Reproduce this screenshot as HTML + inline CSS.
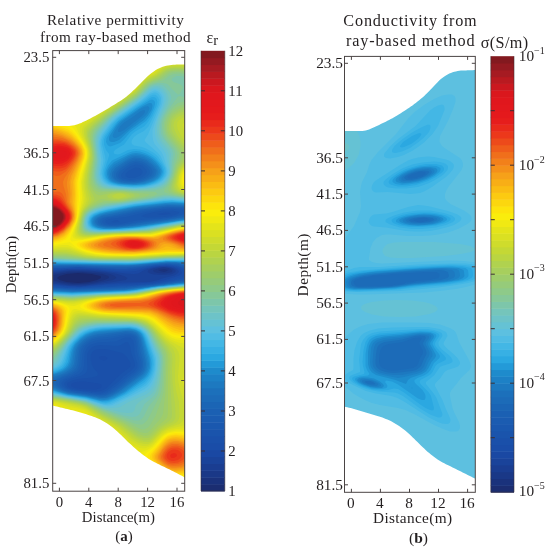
<!DOCTYPE html>
<html><head><meta charset="utf-8"><title>Figure</title>
<style>html,body{margin:0;padding:0;background:#fff}svg{display:block}text{font-family:"Liberation Serif",serif;fill:#231f20}</style></head><body>
<svg width="548" height="550" viewBox="0 0 548 550">
<rect width="548" height="550" fill="#fff"/>
<defs><clipPath id="ca"><rect x="53" y="51" width="132" height="440"/></clipPath></defs>
<g clip-path="url(#ca)">
<rect x="50" y="48" width="138" height="446" fill="#1b2a6b"/>
<path fill="#1a327c" d="M50,48l138,0 0,446 -138,0zM57,278l2.5,2 7,2 11.5,1 11,-1 8,-2 4,-2 -.5,-2 -9,-2 -13.5,-1 -11.5,1 -7,2z"/>
<path fill="#1a3887" d="M50,48l138,0 0,446 -138,0 0,-214.5 9.5,2.5 13.5,2 7,0 6,-.5 10,-1.5 8.5,-2 4.5,-2 -.5,-2 -6,-2 -20.5,-2 -14,.5 -10,1.5 -8,2zM158,270l2,1 4,1 2,-.5 2.5,-1.5 -4.5,-1z"/>
<path fill="#1a3d91" d="M50,48l138,0 0,446 -138,0 0,-212.5 18,3 8,.5 8,-.5 7,-.5 22,-4 3.5,-2 -1.5,-2 -5,-2 -12,-2 -20,-1 -8,0 -20,3zM153,270l1,2 4,1 6,.5 4,-.5 4,-1 .5,-2 -4,-2 -4.5,-.5 -4.5,.5z"/>
<path fill="#1a439a" d="M50,48l138,0 0,446 -138,0 0,-211 20,2.5 14,0 29,-3.5 12.5,-2 2,-2 -3.5,-2 -6.5,-2 -11.5,-2 -18,-1.5 -16,-.5 -22,2.5zM147.5,272l2.5,1.5 4,1 8,.5 8,-.5 2,-.5 3.5,-2 0,-2 -3.5,-2 -8,-1 -9.5,1 -6,2z"/>
<path fill="#1a48a3" d="M50,48l138,0 0,446 -138,0 0,-210 18,2 12,.5 42,-4 27,-.5 9.5,-2 3.5,-1.5 12,-3 3,-1.5 2,-2 -1,-2 -3,-2 -5,-1 -4,-.5 -6,0 -9,1.5 -6.5,2 -6.5,3.5 -4,.5 -8,-.5 -30,-3.5 -12,-.5 -16,0 -18,2z"/>
<path fill="#1a4da8" d="M50,48l138,0 0,446 -138,0 0,-209 18,1.5 12,.5 28,-2.5 44,-2 4.5,-.5 8.5,-2 13,-4 3.5,-2 .5,-2 -1.5,-2 -3,-2 -5.5,-1.5 -6,-.5 -6,0 -12.5,2 -11.5,3 -6,.5 -10,0 -22,-2 -18,-.5 -12,0 -18,1.5z"/>
<path fill="#1a50aa" d="M50,48l138,0 0,446 -138,0 0,-208.5 18,2 10,0 30,-2 36.5,-1.5 16.5,-2 9,-2 14,-4 3,-2 -1.5,-2 -6,-4 -6.5,-2 -5,-.5 -11.5,.5 -18.5,3.5 -10,1 -8,0 -40,-2.5 -12,.5 -18,1.5zM71,384l0,2 4,2 7,1 14,.5 4.5,-1.5 1.5,-2 -1.5,-2 -2.5,-.5 -14,-2 -8,.5 -2,.5zM99,358l2,2 3,.5 2,-.5 1.5,-2 -2.5,-2 -3,0 -2,.5z"/>
<path fill="#1a54ac" d="M50,48l138,0 0,223 -6,-3 -6,-2 -10,-1 -13,1 -17,3 -8,.5 -12,0 -36,-2 -14,.5 -16,1zM157.5,214l2.5,1 2,0 8.5,-1 -.5,-1 -2,-.5 -2,0zM188,277l0,217 -138,0 0,-207.5 18,1.5 8,0 52,-2.5 24,-1.5 13,-2zM130,362l-4,-6 -2,-2 -2,-1 -12,-3 -6,-1 -4,0 -4,.5 -2,1 -2,2 -1.5,3.5 0,2 1.5,7 2,3.5 3,3.5 1,2 -1,2 -5,1.5 -14,1.5 -6,1.5 -4,2 -1,1.5 .5,2 2.5,2 8,2 18,1.5 4,-.5 3.5,-1 3,-2 15.5,-15 7,-5 1.5,-2 0,-2z"/>
<path fill="#1a58af" d="M50,48l138,0 0,221.5 -10,-3.5 -6,-1 -6,-.5 -10,.5 -22,3.5 -8,.5 -10,0 -38,-2 -28,1.5zM120,222l-2,-2 -4,.5 -3,1.5 3,.5zM141.5,216l2.5,1 4,.5 16,-.5 7.5,-1 6.5,-2 1.5,-2 -7.5,-1.5 -8,0 -9.5,1.5 -8.5,2zM188,278.5l0,215.5 -138,0 0,-207 16,1.5 10,0 54,-2.5 25.5,-2zM128,342l-2,0 -4,2.5 -4,1.5 -18,-1 -5.5,1 -3.5,2 -2,2 -2,4 0,4 .5,10 -1,4 -2,2 -2.5,1.5 -12,3.5 -4,2 -1,1 -1,2 1,2 2.5,2 5,2 19.5,2.5 6,0 4,0 5.5,-2.5 10.5,-8 6,-6 8,-6 2,-2 1,-2 -.5,-4 -3,-8 -1.5,-8z"/>
<path fill="#1b5cb1" d="M50,48l138,0 0,163.5 -5.5,-1.5 -8.5,-1 -8,0 -7.5,1 -12.5,2 -20,5 -16,2 -3.5,1 -1.5,2 3.5,2 5.5,.5 6,-.5 16,-3.5 10,-1 20,-1.5 10.5,-2 8,-2 3.5,-1.5 0,55.5 -12,-3 -10,-1 -10,1 -20,2.5 -10,1 -10,0 -38,-1.5 -28,1zM142.5,172l-.5,-2 -2.5,-2 -3.5,-.5 -2,.5 -4,2 -2.5,2 -2,2 0,2 2.5,1.5 1.5,.5 4.5,0 5.5,-2 2.5,-2zM188,279.5l0,214.5 -138,0 0,-206.5 24,1.5 52,-2 33,-3zM133,340l-1,-1 -2,-1.5 -4,0 -2.5,.5 -7.5,3.5 -18,1 -4,1 -4,1.5 -3,3 -2,4 -.5,4 -.5,10 -1,4 -1.5,2 -2.5,2 -15,6 -2,2 -.5,2 1,2 3.5,2.5 6,2 24,3 4,.5 4,-1 3,-1 3.5,-2 5.5,-4 10,-8.5 8,-6 3,-3.5 .5,-4 -3,-10 -.5,-10z"/>
<path fill="#1b60b3" d="M50,48l138,0 0,161 -18,-1 -19,2 -12.5,2 -14.5,3.5 -16.5,2.5 -4.5,2 -1,2 2,2 2,.5 6,1 6,-.5 8.5,-1 15.5,-3 28,-3 18,-3.5 0,52.5 -10,-2.5 -10,-.5 -10,.5 -22,2.5 -10,.5 -14,0 -34,-1 -28,.5zM121,176l1.5,2 3.5,1 4,1 4,-.5 6.5,-1.5 3.5,-2 2,-2 1,-2 -1,-2.5 -3.5,-3.5 -2.5,-1 -4,-.5 -5,1.5 -6,4 -3.5,4zM188,280l0,214 -138,0 0,-206 24,1.5 50,-1.5 38,-4 18,-3zM134.5,338l-2.5,-2 -2,-.5 -4,0 -14,3 -14,1.5 -4,1 -4,1.5 -4.5,3.5 -2,4 -1,4 -1,12 -2,4 -2,2 -3,2 -13.5,6 -2,2 0,2 1.5,2 2.5,2 3,1.5 9,2.5 25,3 5.5,-1 4.5,-2 9,-6 9,-8 8,-6 3,-4 .5,-2 0,-4 -2.5,-10 -1,-10z"/>
<path fill="#1b65b5" d="M50,48l138,0 0,160 -20,-1 -25,3 -21,4.5 -16,3 -2.5,.5 -3,2 -.5,2 1.5,2 4.5,1.5 4,.5 7.5,0 28.5,-4.5 20,-2 22,-3.5 0,50 -11,-2 -9,-.5 -10,.5 -22,2.5 -10,.5 -16,0 -32,-1 -28,.5zM118,176l1.5,2 3.5,2 7,1 6,-.5 3,-.5 5.5,-2 3.5,-2.5 1.5,-1.5 .5,-2 -.5,-2 -1.5,-2 -2,-2 -4,-2.5 -4,-1 -2,-.5 -5.5,2 -6,4 -5,4 -1,2zM188,280.5l0,213.5 -138,0 0,-205.5 24,1.5 52,-2 38.5,-4zM136.5,338l-1.5,-2 -3,-1.5 -2,-.5 -4,0 -14,2.5 -14,1.5 -6,1.5 -4,2.5 -4.5,4 -2.5,4 -.5,4 -1,10 -1.5,4 -1,2 -5,3.5 -10.5,4.5 -4,2 -1.5,2 .5,2 1.5,2 3,2 3.5,2 9.5,2.5 26,3 6,-.5 6.5,-3 6,-4 11.5,-9.5 6,-4.5 4,-4 1,-2 .5,-2 0,-4 -2.5,-8 -1.5,-12z"/>
<path fill="#1c6bb8" d="M50,48l138,0 0,159 -20,-.5 -31,3.5 -15,3.5 -18,3.5 -4,1.5 -1.5,1.5 -.5,2 1,2 4.5,2 6.5,.5 8,0 6,-.5 20,-3.5 22.5,-2.5 21.5,-3.5 0,49 -10,-2 -10,-.5 -10,.5 -20,2.5 -12,.5 -16,0 -32,-1 -28,.5zM116,176l1,2 3,2 6,1.5 8,.5 8,-1.5 5.5,-2.5 3,-2 1.5,-2 .5,-2 -.5,-2 -1,-2 -4.5,-4 -4.5,-2.5 -6,-1 -6,1.5 -9,6 -4,4 -1,2zM188,281.5l0,212.5 -138,0 0,-205 24,1.5 50,-1.5 10,-1zM138,338l-1.5,-2 -2.5,-2 -4,-1 -4,-.5 -28,4 -6,1.5 -4,2 -5,4 -3,4 -1,4 -1.5,12 -1.5,4 -2,2 -2.5,2 -17,8 -1.5,2 .5,2 5.5,4 3.5,2 6,2 31.5,4.5 4,0 4,-1.5 6,-2.5 6.5,-4.5 17.5,-13.5 2.5,-2.5 1.5,-2.5 1,-3.5 0,-4 -2.5,-10 -1.5,-10z"/>
<path fill="#1c70bb" d="M50,48l138,0 0,158 -14,-.5 -8,0 -30,4 -33,6.5 -4.5,2 -1.5,2 -.5,2 1,2 3,2 7.5,1 8,0 12.5,-1 59.5,-9 0,47.5 -10,-1.5 -10,-.5 -42,3.5 -50,-1 -26,.5zM114,176l.5,2 2.5,2 5,2 6,.5 8,0 8,-1.5 6,-3 2.5,-2 1.5,-2 .5,-2 0,-2 -1.5,-2 -5,-5 -6,-3 -6,-1 -4,1 -4,1.5 -9.5,6.5 -4,4 -.5,2zM188,282l0,212 -138,0 0,-110.5 .5,.5 6.5,4 4,2 7,2.5 30,4.5 4,.5 4,-.5 6,-2.5 8,-4.5 20,-15.5 3.5,-4.5 .5,-2 .5,-4 -.5,-4 -2.5,-10 -1.5,-10 -2,-4 -2,-2 -4,-2 -6,-.5 -28,3.5 -4,1 -6,2.5 -5,3.5 -3,3.5 -1.5,2.5 -1,4 -2,12 -1.5,3.5 -2,2.5 -6,3.5 -11.5,4.5 -4.5,2.5 0,-91 24,1.5 50,-1.5z"/>
<path fill="#1d79c0" d="M50,48l138,0 0,157.5 -20,-.5 -32,3.5 -34,7 -5,2.5 -1.5,2 -.5,2 1,2 2.5,2 7.5,1.5 10,0 16.5,-1.5 55.5,-8 0,46 -12,-1.5 -8,0 -40,3 -20,0 -32,-.5 -26,0zM156.5,170l-1.5,-2 -3,-3.5 -6,-4.5 -6,-2 -6,-.5 -4,1.5 -4,2 -10.5,7 -3,4 -.5,2 0,2 1,2 2,2 4,2 9,1.5 10,-.5 8,-2 6.5,-3 2.5,-2 1,-2 .5,-2zM188,282l0,212 -138,0 0,-108.5 9,4.5 9,3 18,2.5 14,2.5 6,0 5,-2 7.5,-4 21.5,-16 2.5,-2 2.5,-4 .5,-2 .5,-4 -.5,-4 -5,-22 -2.5,-3.5 -2,-2 -4,-1.5 -6,0 -28,3 -6,1.5 -4,1.5 -4.5,3 -4,4 -1.5,2 -2,4 -2,14 -2,3.5 -2,2 -4,2.5 -4,2 -12,4 0,-88 22,1.5 52,-1.5z"/>
<path fill="#1d81c6" d="M50,48l138,0 0,157 -20,-1 -34,4 -28,5.5 -6,2 -4.5,2.5 -1.5,2 -.5,2 1,2 1.5,1.5 4,1.5 6,1 10,0 20.5,-2 51.5,-7.5 0,45 -12,-1.5 -8,0 -40,3 -20,0 -32,-.5 -26,0zM144.5,110l-2.5,.5 -2,1 -8,6 -8,5 -4,4 -2,3.5 0,2 2,0 4,-2 18,-14 2,-2 1,-2zM110,174l.5,2 .5,2 2,2 3.5,2 7.5,1.5 10,.5 10,-1.5 7.5,-2.5 3,-2 2,-2 1.5,-2 .5,-2 -.5,-2 -2,-3.5 -6,-5.5 -6,-3.5 -4,-1 -4,-.5 -4,.5 -4,2 -12,7 -3,2.5 -1.5,2zM188,282.5l0,211.5 -138,0 0,-107 12.5,5 7.5,2 16,2 14,3 6,-.5 6,-2 8.5,-4.5 21.5,-16 2,-2 2.5,-4 1,-6 -1,-6 -5,-20 -2.5,-4 -2.5,-2 -4.5,-1.5 -4,-.5 -28,2.5 -6,1 -4,1.5 -4,2 -4.5,3 -3.5,4 -2.5,4 -1.5,4 -1.5,10 -1.5,4 -1.5,2 -2.5,2 -5,2.5 -12,4 0,-86 22,1.5 54,-2 54,-7z"/>
<path fill="#1e8bcc" d="M50,48l138,0 0,156 -14,-.5 -8,0 -26,3 -10,1.5 -24,5 -6,1.5 -3.5,1.5 -2.5,2 -1,2 -.5,2 .5,2 2,2 3,1.5 6,1 10,0 10,-.5 16,-2 48,-7 0,43.5 -12,-.5 -10,-.5 -30,3 -10,.5 -50,-1 -26,0zM148,106l-4,1 -4,2 -18.5,13 -3.5,4 -4,6 -1.5,4 1.5,2 2,0 4,-2 24,-19 3,-3 2,-4 .5,-2zM108.5,174l1,4 1.5,2 3,2 8,2 12,.5 10,-1 8,-2.5 4,-2.5 2,-2 1.5,-2.5 .5,-2 0,-2 -2,-3.5 -4,-4 -2.5,-2.5 -3.5,-2 -4,-2 -4,-1 -4,-.5 -4,.5 -4,1.5 -14,8 -4,4.5 -1.5,3zM188,283l0,211 -138,0 0,-106 10.5,4 7.5,2 18,2.5 14,3 4,.5 4,-1 6,-2.5 9,-4.5 19,-14 2,-2 3,-4 1.5,-4 .5,-4 -1,-6 -5.5,-20 -2.5,-4 -2,-2 -4,-2 -6,-.5 -28,2 -6,1 -4.5,1.5 -4,2 -5.5,4 -3.5,4 -2.5,4 -1,4 -2,10 -1,2.5 -2,3 -3,2.5 -4,2 -11,3.5 0,-84.5 22,1.5 52,-2 8,-.5 20,-3z"/>
<path fill="#239ad8" d="M50,48l138,0 0,155.5 -14,-1 -8,.5 -28,3 -32,6 -7,2 -4,2 -2.5,2 -1,2 0,2 .5,2 1.5,2 4.5,2 6,1 10,0 14.5,-1 13.5,-1.5 46,-7 0,42.5 -12,-.5 -10,0 -28,2.5 -12,.5 -76,-1zM152,103.5l-2,-.5 -2,.5 -6,3 -22,15 -4,4.5 -6.5,10 -.5,2 0,2 1,1.5 2,.5 2,0 5,-2 11,-10 14,-10 4,-4.5 3.5,-5.5 1,-4zM107,174l1,4 1.5,2 2.5,2 6.5,2 5.5,.5 12,.5 9,-1 5,-1.5 4,-1.5 4,-2.5 2,-2.5 1,-2 .5,-2 0,-2 -2.5,-4 -3,-4 -4,-3.5 -4,-2.5 -4,-1.5 -4,-1 -4,-.5 -4,.5 -4,1.5 -14,7 -4,4 -2.5,4zM188,283.5l0,210.5 -138,0 0,-105 9,3 9,2.5 18,2.5 14,3.5 4,0 4,-.5 6,-2 11,-6 19,-14 2,-2 2.5,-4 1.5,-4 0,-4 -.5,-6 -6,-20 -2,-4 -2,-2 -3.5,-2 -2,-.5 -6,-1 -26,2 -8,1 -4,1.5 -4,1.5 -5,3.5 -6,6 -2,4 -1.5,4 -2,10 -2,4 -2,2 -3.5,2.5 -6,2.5 -6,1.5 0,-83 22,1 52,-1.5 10,-1 20,-3z"/>
<path fill="#2ba8e1" d="M50,48l138,0 0,155 -16,-1 -8,.5 -30,3.5 -26,5 -8,2 -6,2.5 -2.5,2.5 -1,2 0,2 .5,2 1,2 3.5,2 6.5,1 10,.5 20.5,-1.5 55.5,-8 0,41.5 -22,-.5 -28,2.5 -12,.5 -76,-1zM154,100.5l-2,-1 -2,.5 -13,8 -19,13.5 -8,10.5 -3.5,6 -.5,4 1,2 1,1.5 2,1 2,-.5 8,-3 3.5,-3 7,-8 15.5,-11 4,-5 4,-8 1,-4 0,-2zM105.5,172l0,4 1,2 1.5,2 2,2 4,1.5 4,1 14,1 12,-.5 4,-1 6,-2 3.5,-2 2.5,-2 2,-3 1,-3 -.5,-2 -1.5,-4 -3,-4 -4,-4 -4,-2.5 -4,-2 -6,-2 -4,-.5 -4,.5 -4,1.5 -16,7.5 -4,5 -2,4.5zM188,283.5l0,210.5 -138,0 0,-104 18,5 18,2.5 16,4 6,-.5 6,-2 10,-5 20,-14 4,-4 2,-4 1,-4 .5,-4 -.5,-4 -1,-4 -5.5,-18 -2,-4 -2.5,-2.5 -4,-2 -6,-1.5 -6,0 -22,1.5 -6,1 -6.5,1.5 -4.5,2 -5,3.5 -4.5,4.5 -3.5,5 -2,5 -2,10 -2.5,4 -2,2 -3.5,2 -4.5,2 -5.5,1.5 0,-81.5 22,1 52,-1.5 10,-1 20,-3.5z"/>
<path fill="#37b0e4" d="M50,48l138,0 0,154.5 -16,-1 -8,0 -30,4 -26,4.5 -8,2 -6,2.5 -1.5,1.5 -2,2 -1,4 .5,2 1,2 3,2 6,1.5 10,0 26.5,-1.5 14.5,-2 29,-5 8,-1 0,41 -22,0 -28,2 -10,.5 -78,-1zM156,98l-2,-1 -2,0 -2,1 -30,20.5 -5.5,5.5 -9,12 -1.5,4 0,4.5 2,5.5 3,4 0,2 -4.5,14 -.5,4 1,4 1.5,2 2,2 4.5,2 7,1.5 10,.5 10,0 10,-1.5 6,-2.5 4,-2.5 3,-3.5 1,-3 0,-3 -2,-5 -6,-7.5 -4,-3 -4,-2.5 -4,-1.5 -4,-1 -6,-.5 -6,1 -8,4 -2,.5 -3.5,-.5 -1,-2 1.5,-2 3,-2 6,-3.5 8,-10.5 4,-3 8,-4.5 4,-4.5 4,-6 4.5,-10 1,-4 -.5,-2zM188,284l0,210 -138,0 0,-103.5 16,4.5 20,3 16,4 4,.5 4,-1 16,-7.5 18.5,-12 3.5,-4 2.5,-4 1.5,-4.5 .5,-5.5 0,-4 -1,-4 -6,-18 -2,-4 -3.5,-3.5 -4,-2 -6,-1 -26,1 -8,1 -6,1.5 -4,1.5 -5.5,3.5 -6.5,6 -2.5,4 -2,4 -3.5,12 -2.5,4 -2,2 -3.5,2 -8,2.5 0,-80 22,1 52,-2 10,-1 22,-3.5z"/>
<path fill="#43b7e5" d="M50,48l138,0 0,154 -16,-1.5 -8,.5 -30,3.5 -26,5 -8,2 -6.5,2.5 -2.5,2 -1.5,2 -1,4 .5,2 1,2 2,2 2,.5 6,1.5 10,0 12,-.5 18.5,-1.5 39.5,-6.5 8,-1 0,40 -22,0 -28,2.5 -10,0 -26,0 -52,-1zM156,95l-2,-.5 -2,.5 -2,1 -8,6 -23.5,16 -6,6 -8.5,12 -1.5,4 -.5,4 3,12 .5,4 -2.5,10 -.5,4 1,4 1.5,2 3,3 4,1.5 8.5,1.5 11.5,1 10,-.5 8,-1.5 6,-2 5,-3 3,-4 1.5,-4 -.5,-4 -3,-5.5 -4,-6 -4,-3.5 -8,-4.5 -4,-1.5 -8,-1.5 -2,-1.5 -.5,-2 .5,-2 2,-3 4,-3 6,-3 4,-4 2,-3.5 6.5,-13.5 2.5,-6 .5,-4 -1,-2 -.5,-1zM188,284.5l0,209.5 -138,0 0,-102.5 16,4 20,3 16,4.5 4,.5 4,-1 4,-1.5 14,-7 14,-8 4,-3 4,-5 2,-4 1,-4 1,-6 -.5,-4 -.5,-4 -6.5,-18 -2,-4 -4,-4 -4.5,-2 -6,-1 -26,1 -8,.5 -6,1.5 -5,2 -5,3 -6,6 -4,5 -1.5,4 -4,12 -2.5,3.5 -4,3 -4,2 -4,1 0,-78.5 22,1 52,-2 10,-1 22,-3.5z"/>
<path fill="#51bce4" d="M50,48l138,0 0,153.5 -16,-1.5 -8,.5 -29.5,3.5 -26.5,5 -10,2.5 -5.5,2.5 -2.5,2 -1,2 -1,4 0,2 1,2 3,2.5 6,1.5 10,.5 14,-.5 22,-2 34,-6 10,-1 0,39 -22,0 -28,2.5 -10,.5 -28,-.5 -50,-1zM158,93.5l-2,-1 -2,0 -4,1.5 -8,6.5 -25,17.5 -6,6 -6,8 -2.5,4 -1.5,4 -.5,4 3,16 -.5,4 -1.5,6 0,4 1,4 1,2 1.5,2 3,2 6,1.5 12,1.5 10,.5 10,-1 8,-2 4,-1.5 4.5,-3 3,-4 1,-4 -.5,-4 -5.5,-12 -2.5,-3 -12.5,-11 -1,-2 3.5,-5.5 12.5,-30.5 .5,-4 0,-2 -1,-2zM188,284.5l0,209.5 -138,0 0,-102 17,4 19,3 16,5 4,.5 4,-.5 4,-1.5 14,-6.5 18,-10.5 4,-4.5 2.5,-5 2,-6 .5,-6 0,-4 -1,-4 -6.5,-18 -2,-4 -4,-4 -5.5,-2.5 -6,-1 -26,.5 -8,1 -6,1 -6,2.5 -4,2.5 -6,6 -5,6 -2,4 -3.5,10 -2,4 -2,2 -3,2 -6.5,2.5 0,-77 22,1 54,-2.5 8,-.5 24,-4z"/>
<path fill="#5dc0e0" d="M50,48l138,0 0,152.5 -16,-1 -6,0 -32,4 -28,5 -8,2 -6,3 -2,1.5 -2,3 -1,4 1,4 1.5,2 2.5,1.5 6,1 8,0 20,-.5 18,-1.5 34,-6 10,-1 0,38 -22,.5 -28,2 -10,.5 -28,0 -50,-1.5zM158,91.5l-2,-1 -2,0 -4,2 -10,8.5 -24,16.5 -4.5,4.5 -9.5,12 -1.5,4 -1,4 0,4 2,14 -1.5,14 1,4 1,2 1.5,2 2.5,2 6,2 10,1 12,1 10,-.5 8,-1.5 6,-2 4,-2.5 4,-4.5 1.5,-3 0,-4 -4,-14 -2,-4 -7,-8 -1.5,-4 -.5,-4 0,-6 2.5,-8 6.5,-16 1,-4 0,-4 -.5,-2 -2,-3zM188,285l0,209 -138,0 0,-101.5 16,4 20,3 18,5.5 4,.5 4,-.5 18,-8.5 14,-7 4,-3 3.5,-4.5 2.5,-5.5 1.5,-6.5 .5,-6 0,-6 -2,-6 -6.5,-16 -2.5,-4 -2.5,-2 -4.5,-2.5 -6,-1.5 -6,-.5 -20,1 -8,.5 -8,1.5 -6,2 -4,2.5 -7.5,7 -4.5,6 -2,4 -4,10 -2.5,4 -3.5,3 -6,2 0,-75.5 22,1.5 26,-1.5 28,-1 8,-1 24,-4z"/>
<path fill="#65c2d4" d="M50,48l138,0 0,152 -16,-1.5 -8,.5 -30,4 -28,4.5 -8,2.5 -6,2.5 -2,1.5 -2,2.5 -1.5,3.5 0,2 .5,4 1.5,2 3.5,2 4,.5 8,.5 20,-.5 20,-1.5 34,-6 10,-1 0,37.5 -22,0 -36,2.5 -32,0 -48,-1.5zM159,90l-3,-1 -2,0 -2.5,1 -12,10 -23,16 -6.5,6 -6.5,8 -2.5,4 -2,4 -.5,4 0,4 2,14 -1.5,14 1.5,6 1.5,2 2,2 5,2 7,1 18,1.5 10,-.5 8,-1 6,-2 5.5,-3 3,-4 2,-4 .5,-4 -3,-16 -2,-3.5 -4,-5 -2.5,-3.5 -1.5,-4 -1,-4 0,-6 1.5,-6 2,-6 4.5,-10 1.5,-6 -.5,-4 -1,-2 -1.5,-2zM188,285l0,209 -138,0 0,-101 16,3.5 20,3.5 18,6 6,.5 4,-.5 30,-14 3.5,-2 2.5,-2 2.5,-4 3,-8 1.5,-8 .5,-6 -.5,-4 -1,-4 -7.5,-18 -2.5,-4 -4,-3.5 -6,-2.5 -6,-1 -26,.5 -8,1 -6,1 -6,2 -4,2.5 -6,5.5 -5.5,6.5 -4,6 -4.5,10 -2,3.5 -3,2.5 -5,2 0,-74 22,1.5 28,-2 26,-.5 8,-1 22,-4z"/>
<path fill="#6dc3c8" d="M50,48l138,0 0,151.5 -16,-1.5 -6,0 -30,4 -30,5 -10,3 -6,3 -2,2 -1.5,3 -1,4 .5,4 1,2 3,2 4,1 8,.5 20,-.5 22,-1.5 9,-1.5 27,-5 8,-1 0,37 -22,0 -36,2.5 -32,0 -48,-1.5zM160,88.5l-2,-1 -4,0 -4,2 -12,10.5 -25.5,18 -9,10 -3.5,5 -2,4.5 -.5,4.5 0,4 1.5,14 -1,14 .5,4 1.5,3.5 2,2.5 2,1 6,2 24,2 12,-.5 8,-1 6,-2 4,-2.5 3.5,-5 2,-4 .5,-4 -1,-8 -.5,-8 -1.5,-4 -5,-6 -2.5,-4 -2,-4 -.5,-4 0,-6 1.5,-6 6,-14 2,-6 -.5,-4 -.5,-2 -3,-4zM188,285.5l0,208.5 -138,0 0,-100.5 16,3.5 20,3.5 16,6 4,1 6,.5 6,-.5 2,-.5 8.5,-5 17.5,-7.5 3.5,-2.5 2,-2 2.5,-4 2.5,-8 1.5,-8 .5,-8 0,-4 -1,-4 -8.5,-18 -2,-4 -5,-4 -6,-2.5 -6,-1 -26,.5 -8,.5 -6,1 -6,2 -4,2.5 -6,5.5 -7,7.5 -10,18 -3,2.5 -4,2 0,-72 22,1 26,-1.5 28,-1 10,-1 22,-4z"/>
<path fill="#75c5bb" d="M50,48l138,0 0,151 -18,-2 -6,0 -60,9.5 -10,3.5 -3.5,2 -2.5,2 -2.5,4 -.5,6 1,4 2,2 2,.5 6,1 8,.5 22,-1 20,-1.5 32,-6 10,-1 0,36 -22,.5 -36,2.5 -34,-.5 -46,-1.5zM162,87.5l-2,-1 -4,-.5 -4,1 -2,1 -12,11 -21.5,15 -5.5,4 -9,10 -3,4 -2,4 -1,6 2,18 -1.5,14 .5,4 1,2.5 2,3 2,2 4,1.5 6,1 22,1.5 12,-.5 8,-1 6,-1.5 4,-2.5 4,-4.5 1.5,-3.5 1,-4 0,-10 .5,-8 -1.5,-4 -6.5,-8 -2.5,-4 -1.5,-4 -.5,-4 .5,-4 1,-6 2,-5 5.5,-11 1,-4 0,-2 -1,-4 -2.5,-4zM188,285.5l0,208.5 -138,0 0,-100 16,3.5 20,3.5 18,7 18,4.5 6,.5 4,-.5 1,-.5 1.5,-2 1,-4 1.5,-2 2,-2 11,-6.5 4,-4.5 2,-4.5 2,-8 1.5,-8.5 .5,-8 -.5,-4 -1,-4 -8.5,-18 -2.5,-4 -4,-4 -5.5,-2.5 -6,-1.5 -26,0 -8,.5 -8,1.5 -6,1.5 -4,2 -4,3.5 -10,11 -10,16.5 -2,2 -4,2.5 0,-70 22,1 28,-1.5 26,-1 10,-1 22,-4z"/>
<path fill="#7dc6aa" d="M50,48l138,0 0,150.5 -18,-2.5 -6,0 -12,2.5 -48,7.5 -10,3 -4,2.5 -2,1.5 -2,3 -1,2 -1,6 1,4 3,2.5 6,1.5 8,0 44,-2 32,-6 10,-1 0,35 -22,.5 -36,2.5 -34,-.5 -46,-2zM164,86l-2,-1 -4,-.5 -4,.5 -4,2 -12,11 -23,16 -5,4 -9.5,10 -3,4 -1.5,4 -1,4 .5,4 1.5,14 0,4 -1.5,10 0,4 1.5,6 1.5,2 2.5,2 3,1.5 6,1 26,1.5 12,0 8,-1 6,-2 4,-3 2,-3 2.5,-5 1,-4 .5,-10 1,-8 -1,-4 -9,-12 -2,-4 -.5,-6 0,-4 1.5,-6 7.5,-14 2,-6 -.5,-2 -1.5,-4 -3.5,-4zM188,286l0,208 -138,0 0,-99 36,6.5 18,7.5 20,6.5 8,1.5 4,-.5 2,-1 1.5,-1.5 4,-8 1,-2 7.5,-6.5 2,-2 2,-3.5 2,-5.5 1.5,-6.5 1,-10 .5,-8 -.5,-6 -2.5,-6 -8,-16 -3,-4 -2.5,-2 -6.5,-3.5 -6,-1 -24,0 -10,.5 -8,1 -6,1.5 -4,2 -4,3.5 -9,10 -11,15.5 -4,4.5 -2,1 0,-67.5 22,1 28,-2 28,-1 8,-1 22,-4z"/>
<path fill="#86c899" d="M50,48l138,0 0,29.5 -7,-1.5 -4.5,0 -4,2 -1,2 2,2 6,2 3,2 .5,2 -1,2 -2,3.5 -2,1.5 -.5,-1 -1.5,-1 -4,-4 -4,-4.5 -2,-1 -4,-.5 -4,0 -4,1 -4,1.5 -13.5,12.5 -23,16 -7,6 -7.5,8 -3,4 -1.5,4 -.5,4 2,18 -1.5,14 0,6 1.5,5 2.5,3 3.5,2 4,1 30,2 18,-.5 6,-1 2,-.5 4,-3 2,-3 3.5,-7 1,-4 1,-8 1.5,-10 -1,-4 -8,-10 -3,-6 -1,-6 0,-4 1,-4 1.5,-4 3.5,-6 10,-13.5 2,-.5 8,2.5 0,99.5 -20,-3 -4,-.5 -14,3.5 -28,4.5 -14,1.5 -6,1.5 -8,3 -6,3.5 -2,2.5 -1.5,3.5 -1,6 .5,4 2,2.5 4,1.5 8,.5 48,-2 8,-1.5 24,-4.5 10,-1.5 0,34.5 -22,.5 -26,2 -10,.5 -36,0 -44,-2.5zM188,286l0,208 -138,0 0,-98.5 36,6.5 5,2 11,5 24,9 8,2.5 4,0 2,-.5 2,-1.5 2,-2.5 5,-10 7,-8.5 2,-3.5 1.5,-6 1,-6 2,-20 -.5,-6 -1.5,-4 -9.5,-18 -3,-4 -4,-3 -6,-3 -6,-1 -6,-.5 -28,.5 -10,1.5 -6,2 -3,1.5 -3,2.5 -11.5,13.5 -8.5,11.5 -4,4 -2,1 0,-64.5 22,1 28,-2 28,-1 8,-1 22,-4 18,-2z"/>
<path fill="#8eca89" d="M50,48l138,0 0,26.5 -8,-1 -6.5,.5 -4.5,2 -5,4 -10,3 -4,1.5 -4,3.5 -6,6 -4,3.5 -22,15 -6.5,5.5 -12,12 -1.5,3 -1,3 0,6 1.5,10 .5,6 -1.5,14 0,6 1.5,6 3,3.5 2,1.5 4,.5 16,.5 18,1.5 17,.5 1,.5 1.5,1.5 -4,2 -31.5,6 -16,1.5 -8,2 -8,4 -4,4 -2,4.5 -1,6 0,4 1,2 2,1.5 4,1 6,.5 52,-2.5 30,-5.5 10,-1.5 0,34 -20,0 -38,2.5 -34,0 -46,-2.5zM184,101.5l4,.5 0,95.5 -9.5,-1.5 -8.5,-2 -6,-2 .5,-2 3.5,-4.5 2,-3.5 2.5,-6 2.5,-12 2,-6 .5,-4 -.5,-2 -2,-4 -7,-8.5 -3,-5.5 -1.5,-6 .5,-6 1.5,-4 2,-4 2.5,-3.5 4,-4.5 4,-3 2,-.5zM188,286.5l0,207.5 -138,0 0,-98 30,5 6,1.5 4,1.5 14,7 30,12.5 4,1 4,0 2,-1 3.5,-3.5 12.5,-24.5 1.5,-5.5 1,-6 1,-22 -.5,-6 -2,-6 -9,-16 -3,-4 -5,-4 -4,-2 -6,-1.5 -6,-.5 -30,.5 -8,.5 -8,2 -4,2.5 -2,2 -12.5,14.5 -7.5,9.5 -6,5 0,-62.5 22,1.5 28,-2.5 28,-1 8,-1 22,-4 18,-2z"/>
<path fill="#96cb7a" d="M50,48l138,0 0,25 -10,-1 -6,.5 -3.5,1.5 -6.5,5 -10,3.5 -3,1.5 -3,2.5 -6,6.5 -4,3.5 -28,19.5 -12.5,12 -1.5,2 -1.5,4 -.5,6 2,12 0,6 -1.5,14 -.5,6 1.5,6 2.5,4 2,1.5 4,1.5 20,0 28,3 -3,2 -17.5,4 -11.5,2 -14,.5 -4,1 -4,2 -6,3 -4,3.5 -2,3.5 -1,2.5 -1,8 1,4 2,2 5,1 6,.5 52,-2.5 30,-6 10,-1 0,33 -20,.5 -30,2 -10,0 -34,0 -32,-2.5 -12,-.5zM188,104.5l0,92.5 -6,-1 -8,-2 -4.5,-2 -1.5,-2 .5,-2 5,-12 2.5,-11 3,-7 .5,-4 -.5,-2 -2,-4 -9.5,-12 -1.5,-4 -1,-6 .5,-4 1.5,-4 2.5,-4 2.5,-3 4,-3.5 4,-2 4,-1zM188,286.5l0,207.5 -138,0 0,-97.5 30,5 6,2 6.5,2.5 9.5,5 24.5,11 11.5,6 4,1.5 2,0 2,-1 2,-1 2,-2.5 5.5,-9 6.5,-18 1.5,-6 .5,-6 1,-24 -.5,-6 -2,-6 -9.5,-16 -3,-4 -4.5,-4 -5.5,-2.5 -6,-1.5 -6,-.5 -32,0 -10,1.5 -6,2 -4,3 -20,23.5 -6,5 0,-60 22,1.5 28,-2.5 28,-1 8,-1 22,-4 18,-2z"/>
<path fill="#9ecd6b" d="M50,48l138,0 0,23.5 -10,-1 -4,.5 -4,.5 -4,2.5 -6,4.5 -8,3 -4,2 -12,12 -29,20.5 -11,10 -3.5,4 -1.5,4 -.5,4 2.5,14 .5,6 -2,14 -.5,6 .5,6 2.5,5 2,2 4,1.5 16,-1 8,0 15,2.5 1,2 -6,2 -10,2.5 -8,.5 -12,0 -6,2 -8,4.5 -4.5,4.5 -1.5,2 -1.5,4 -1,8 .5,4 2,2.5 4,1 6,.5 54,-2.5 30,-6 10,-1.5 0,32.5 -22,.5 -28,2 -10,.5 -34,-.5 -14,-1 -16,-2 -14,0zM188,106.5l0,89.5 -11,-2 -4.5,-2 -1.5,-2 -.5,-2 .5,-2 6,-20 4.5,-8 .5,-4 -.5,-2 -2.5,-4 -7,-9 -3.5,-5 -1.5,-4 0,-4 .5,-4 1.5,-4 2.5,-4 2.5,-2 6,-4 4,-1zM188,286.5l0,207.5 -138,0 0,-97 28.5,5 8,2 17.5,9 19,9 16.5,10 4.5,1 2,0 2,-.5 2.5,-2.5 10.5,-12 2,-4 2.5,-22 1,-32 -.5,-6 -1.5,-4 -10.5,-16 -3,-4 -4.5,-4 -4.5,-2.5 -6,-2 -8,-.5 -32,-.5 -10,1.5 -6,1.5 -4,3 -7.5,9.5 -12.5,14 -6,4.5 0,-57.5 22,1.5 28,-2.5 30,-1.5 8,-1 20,-4 18,-2z"/>
<path fill="#a7cf5d" d="M50,48l138,0 0,22 -10,-.5 -8,1 -4,1.5 -8,6 -10,4.5 -2,1.5 -10,10.5 -24,16.5 -6.5,5 -11,10 -3.5,4 -1,2 -.5,4 2.5,14 .5,6 0,4 -2.5,14 -.5,6 1,6 2,4 3.5,4 2,1 2,.5 12,-3 8,-.5 6,.5 7,1.5 2,2 -4.5,2 -8.5,2 -10,.5 -10,-1.5 -2,.5 -2,1 -10,7.5 -3.5,4 -2.5,6 -1,6 -.5,4 .5,2 1,2 2,1.5 4,1 4,0 56,-3 8,-1 22,-4.5 10,-1.5 0,31.5 -22,.5 -32,2.5 -28,0 -19,-1 -23,-3 -14,0zM188,109l0,86.5 -8,-1.5 -5,-2 -2,-2 -1,-2 .5,-4 5,-16 2.5,-4.5 4,-5.5 .5,-2 0,-2 -.5,-2 -2.5,-4 -7.5,-9.5 -3,-4.5 -2,-4 -.5,-4 1.5,-6 2,-3.5 2,-2 6,-4 4,-1zM188,287l0,207 -138,0 0,-96.5 26,4.5 10,2.5 7,3.5 9,5.5 22,10.5 14.5,10 5.5,2 4,-.5 2.5,-1.5 7.5,-8 7,-6 2,-2 .5,-2 .5,-4 0,-40 .5,-12 -1,-6 -1.5,-4 -13.5,-20 -4.5,-4 -6,-3 -6,-2 -6,-.5 -36,-.5 -8,.5 -6,1.5 -4,2.5 -8.5,11.5 -9.5,10.5 -4,4 -4,2.5 0,-55.5 22,1.5 28,-3 30,-1 8,-1 20,-4 18,-2z"/>
<path fill="#b0d24f" d="M50,48l138,0 0,21 -12,-.5 -4,0 -4,1 -4,2.5 -6,4.5 -10,5 -3.5,2.5 -8.5,9.5 -29.5,20.5 -14,12 -3,4 -1,2 -.5,4 3.5,14 .5,6 -.5,4 -2.5,14 -.5,8 1.5,7.5 4.5,8.5 0,2 -1.5,2 -7,6.5 -2.5,3.5 -2,6 -2,10 .5,2 .5,2 1.5,1.5 4,1.5 4,0 26,-1.5 32,-1.5 8,-1 22,-5 10,-1 0,31 -24,.5 -30,2 -28,0 -20,-1 -20,-3.5 -16,0zM188,111l0,42.5 -2,-3.5 -8.5,-10 -3.5,-5 -2.5,-5 -.5,-4 .5,-4 .5,-2 3.5,-4 2.5,-2 4,-2zM188,157l0,38 -5,-1 -5.5,-2 -2.5,-2 -1,-2 -.5,-2 2,-8 3,-10 3.5,-4.5 5.5,-5.5zM107,196l3,-2 8,-1 4,0 6.5,1 2.5,2 -4,2 -9,1.5 -4,0 -5.5,-1.5zM188,287l0,207 -138,0 0,-96 30,5.5 7.5,2.5 14.5,8.5 19,9.5 16.5,12 6.5,2 4,0 2,-1 2,-1.5 8,-8.5 8,-5 2,-2 1.5,-2 .5,-4 -1.5,-28 -.5,-14 .5,-12 -1,-6 -2.5,-6 -12,-16 -3.5,-4 -3.5,-3 -4,-2 -4,-1.5 -6,-1.5 -10,-.5 -36,-.5 -6,.5 -4,1.5 -2,2 -2,2 -5.5,9 -3.5,4 -9,9.5 -6,4 0,-53.5 18,1.5 8,0 24,-3 34,-2 25,-4.5 17,-2z"/>
<path fill="#bad541" d="M50,48l138,0 0,19.5 -12,0 -8,1 -4,2 -7.5,5.5 -8.5,4 -4,3 -8,9 -30,21 -13,11 -5,5.5 -1,2.5 0,4 3,12 1,8 -3.5,20 0,8 .5,4.5 3.5,9.5 0,2 -1,2 -1,2 -5.5,6 -2,4 -2.5,10 -.5,6 1,3 2,1.5 4,1 4,0 24,-2 36,-1 28,-6 10,-1.5 0,30.5 -24,.5 -30,2 -28,0 -12,-.5 -10,-1 -18,-3.5 -6,-.5 -10,.5zM188,113.5l0,34.5 -6,-6 -4.5,-6 -3,-6 -1,-4 .5,-4 2.5,-4 3,-2 2.5,-1zM188,161l0,33 -6,-1 -4,-2 -2.5,-3 -.5,-2 1.5,-8 1.5,-6 2,-4 2,-3 2,-1.5zM111.5,196l4,-2 4.5,-.5 3.5,.5 3.5,2 -5,2 -4,.5 -4,-.5zM188,287.5l0,206.5 -138,0 0,-95.5 29,5.5 7,2 3.5,2 10.5,6.5 21.5,11.5 14.5,11 4,2 4,1.5 4,-.5 2,-.5 2,-1.5 8,-8.5 4,-3 8.5,-4.5 2,-2 1,-2 0,-4 -.5,-10 -1.5,-12 -1,-10 -.5,-12 .5,-10 -.5,-6 -3,-6 -16.5,-20 -4.5,-4 -4,-2 -4,-1.5 -6,-1 -46,-2 -8,.5 -4,2.5 -2,2.5 -5,9 -7,8 -6,6 -6,4.5 0,-52 18,1.5 6,0 26,-3 34,-2 26.5,-5zM167.5,488l.5,2 2,2 2,.5 3.5,-.5 2.5,-2 0,-2 -2,-1.5 -2,-1 -4,.5z"/>
<path fill="#c4d835" d="M50,48l138,0 0,18.5 -10,0 -6,0 -4,1 -4,1.5 -8,6 -10,5 -2.5,2 -5.5,7 -3.5,3 -28.5,19.5 -15.5,12.5 -3.5,4 -1,2 -.5,4 .5,4 3.5,10 .5,6 -.5,6 -2.5,14 -1,8 .5,6 2.5,10 0,2 -1.5,4 -3.5,4.5 -2,3.5 -2,7.5 -2,10.5 0,2 1,2 1,1 3,1 5,0 26,-2 36,-1 28,-6 10,-1.5 0,29.5 -22,.5 -32,2 -26,0 -21.5,-1.5 -20.5,-4.5 -6,0 -10,.5zM188,116.5l0,28 -4,-4 -3,-4.5 -3,-6 -1,-4 .5,-4 1.5,-2 3,-2zM188,163l0,30.5 -5.5,-1.5 -3.5,-2 -1.5,-2 -1,-4 1.5,-8 2,-6 2,-3 2,-2zM188,287.5l0,206.5 -12.5,0 5,-2 2,-2 0,-2 -1.5,-2 -3,-1.5 -6,-1.5 -4.5,1 -2,2 -.5,2 0,2 1,2 3.5,2 -119.5,0 0,-94.5 25,4.5 7,1.5 4,1.5 5,3 9,6 19,10 15,12 6,3 4,1 4,0 2,-.5 4,-3.5 4,-4.5 4,-3.5 4,-2.5 8,-3.5 3,-2 1.5,-2 1,-4 -.5,-14 -3,-12 -1,-8 0,-10 .5,-12 -.5,-6 -1.5,-4 -1.5,-2 -8,-8 -8,-10 -4,-4 -4,-3 -4,-2 -8,-2 -10,-1 -26,-.5 -16,-1.5 -4,0 -4,2 -2,2 -6,12 -5,6 -7,7 -6,4.5 0,-50.5 18,2 6,0 26,-4 34,-1.5 28.5,-5.5z"/>
<path fill="#cfdc2c" d="M50,48l138,0 0,17.5 -10,-.5 -8,1 -4,.5 -4,2 -6.5,5.5 -11.5,6 -2,2 -4.5,6 -3.5,3.5 -24,16 -9,6.5 -12.5,10 -4,4 -.5,2 0,4 1,4 3.5,10 1,6 -.5,4 -3.5,16 -1,8 .5,6 2,12 -1.5,4 -4,8 -4.5,16 0,4 .5,2 2,2 4.5,1 4,0 28,-3 34,-1 28,-5.5 10,-1.5 0,28.5 -24,.5 -30,2 -26,0 -12,-.5 -8,-1 -7.5,-1.5 -10.5,-3.5 -4,-.5 -6,0 -10,1zM188,120.5l0,19 -3,-5.5 -2.5,-8 .5,-2 1,-1.5zM188,164.5l0,28 -4,-1 -3,-1.5 -2,-2 -1,-2 -.5,-2 1.5,-8 2,-6 3,-3.5zM188,288l0,206 -6.5,0 3.5,-2 1.5,-2 0,-2 -1.5,-2 -3,-2 -6,-2 -4,-.5 -5,.5 -3,2 -1,2 0,4 .5,2 1.5,2 -115,0 0,-94 30,6 5.5,2 3.5,2 11,7.5 12.5,6.5 6.5,4 13,11 6,3.5 6,1.5 4,0 4,-2 10,-10.5 6,-3.5 11.5,-4 2.5,-2 1.5,-2 .5,-2 -.5,-16 -1,-4 -2.5,-8 -1.5,-8 -.5,-6 1.5,-16 0,-4 -1,-4 -2.5,-4 -10,-8 -13,-14 -7,-5 -4,-1.5 -6,-1 -10,-1 -26,-1 -18,-2 -4,0 -2.5,1.5 -2,2 -1.5,2.5 -4,9.5 -4,6 -8,8 -6,4 0,-48.5 18,2 6,0 24,-4 38,-2 26,-5z"/>
<path fill="#dae022" d="M50,48l138,0 0,16.5 -18,0 -4,1 -4,1.5 -9,7 -9,4 -2.5,2 -4,6 -3.5,4 -12,8 -12,7.5 -16,11.5 -10.5,9 -1,2 -.5,4 1,4 5,12 .5,4 0,4 -4,18 -1,8 0,6 1.5,10 -.5,4 -4,10 -5,20 .5,2.5 1,1.5 1,.5 4,1 4,0 16,-2 12,-1 36,-1 6,-1 22,-5 10,-1.5 0,28 -24,1 -30,1.5 -28,0 -10,-.5 -10,-1.5 -16,-5.5 -4,-.5 -6,0 -10,1zM188,165.5l0,26.5 -5,-2 -2.5,-2 -1,-2 -.5,-4 .5,-6 2.5,-5.5 2,-2.5zM188,288l0,62.5 -18,-9.5 -6,-5 -10,-10.5 -6,-4.5 -4,-1.5 -10,-2 -34,-2 -20,-2.5 -4,.5 -2,1 -1.5,1.5 -2,4 -3.5,10 -2,4 -7,7.5 -4,3 -4,2.5 0,-47.5 18,3 6,0 24.5,-4.5 37.5,-2.5 26,-5 14,-1.5zM188,370.5l0,23.5 -2,-3 -2,-4 -1,-3 -.5,-4 1.5,-6 2,-2.5zM50,401l7,1 11,3 12,2.5 6,2 4,2.5 8,6 11,6 9,6 12,10.5 8,4 4,1.5 4,0 2,-.5 4,-2 9,-9.5 5,-3.5 4,-1.5 11.5,-3 6.5,-2 0,60.5 -5.5,-2.5 -6.5,-1.5 -8,-.5 -4,1 -2,2 -1,3 0,4 1.5,4 -112.5,0zM186,494l2,-1 0,1z"/>
<path fill="#e4e41a" d="M50,48l138,0 0,15 -16,.5 -8,1 -4,1.5 -8,6.5 -10,4 -2,1.5 -4,7.5 -2,2.5 -15,10 -9,5 -6.5,5 -11.5,7.5 -10,8 -2,2.5 -.5,2 .5,4 1.5,4 5,10 1,4 .5,4 -.5,4 -4,16 -1.5,8 0,6 1.5,10 -.5,4 -2.5,8 -2.5,10 -3,10 -.5,4 0,2 1.5,1.5 4,1 4,0 17,-2.5 11,-1 40,-1 26,-6 10,-1.5 0,27.5 -26,.5 -28,1.5 -26.5,0 -9.5,-.5 -10,-1.5 -7,-2 -11,-4.5 -4,-.5 -6,0 -10,1.5 0,-131.5 10,.5 5,-1.5 -.5,-2 -2.5,-1 -4.5,-1 -7.5,-.5zM111,84l1,.5 2,0 1,-.5 0,-2 -1,-.5 -2,.5zM188,166.5l0,24.5 -2.5,-1 -3,-2 -1.5,-2 -1,-4 1,-6 1,-4 2,-2.5zM188,288.5l0,55 -8,-.5 -6,-2 -4,-2 -4,-3 -7.5,-8 -4.5,-4 -6,-4 -4,-1.5 -6,-1.5 -6,-.5 -32,-1.5 -22,-4 -4,1 -2,2 -2,4 -3,10 -3,6 -6,6.5 -4,3 -4,2.5 0,-46 8,1.5 10,2 6,.5 15,-4 9,-1.5 8,-1 28,-1 8,-1.5 13,-3 21,-3zM50,401.5l10,2.5 8,3 8,1 8,2 3.5,2 8.5,7.5 12,6.5 8.5,6 3.5,3 6,6.5 2,1.5 8,3.5 4,1.5 4,.5 6,-2 4,-3 8,-8.5 6,-4 8,-2 12,-1 0,53.5 -6.5,-1.5 -9.5,-1 -8,-.5 -4,1 -1,2.5 1,12 -29.5,0 1.5,-1 .5,-3 -.5,-3.5 -2,-1.5 -2,0 -1.5,1 -1,2 0,2 0,2 2.5,2 -78,0 0,-76 6,.5 4,0 2,-1 1.5,-1.5 -1,-2 -2.5,-.5 -3.5,.5 -6.5,2zM138.5,468l.5,4 1,2 2,1.5 4,1 4,0 2.5,-.5 1.5,-1.5 -.5,-2.5 -1,-2 -2,-2 -4.5,-2 -4,-.5 -2,.5z"/>
<path fill="#f0e913" d="M131,50l1,-.5 2,0 1,.5 .5,2 -.5,2 -1,.5 -2,0 -1,-.5 -1,-2zM141.5,68l.5,-4 1.5,-2 6.5,-2.5 2,-1.5 2,-4 .5,-6 33.5,0 0,14 -20,.5 -8,1 -4,2.5 -4.5,4 -3.5,1.5 -2,.5 -2,-.5 -2,-1.5zM134,79.5l.5,.5 .5,2 -.5,2 -1.5,2 -3,2.5 -4,1.5 -2,.5 -2,-.5 2,-7 2,-3 2,-1 2,-.5 2,0zM111,96l1.5,-2 5.5,-1.5 .5,1.5 -2.5,2 -4,1zM96,106l2,-1 1,1 -1,.5zM50,120l20,2.5 4,1 2,3 3,7.5 5.5,10 2.5,6 0,4 0,4 -4.5,16 -1.5,8 1,16 -.5,4 -4,18 -4.5,14 -.5,2 1,2 2.5,1 6,.5 22,-3.5 8,-.5 16,-1 22,0 6,-1 22,-5 10,-1.5 0,26.5 -20,0 -36,2.5 -24,-.5 -12,-1 -10,-2 -7,-2.5 -11,-5 -6,0 -12,2zM188,168l0,21.5 -3.5,-1.5 -2,-2 -1,-2 0,-4 .5,-4 1.5,-4 1.5,-2zM188,288.5l0,52 -8,-.5 -4,-.5 -4,-1.5 -6,-4 -8,-8 -6,-5 -4,-2 -4,-1.5 -12,-1.5 -32,-2 -8,-1 -16,-4 -2,0 -2,1.5 -2,3.5 -4,14 -3,6 -7,7 -6,4 0,-44 8,1 12,3.5 4,.5 2,-.5 8.5,-3.5 7,-2 6.5,-1 8,-1 30,-1.5 8,-1.5 16,-3.5 14,-2zM50,403l4,1 4.5,2 0,2 -4.5,1.5 -4,1zM75,414l1,-2 2,-.5 4,.5 4,2 1.5,2 0,2 -1.5,1.5 -2,0 -4,-.5 -3,-1 -1,-1zM139.5,454l2,-2 6.5,-2.5 4,-2.5 10,-10.5 3,-2.5 3,-1.5 8,-2 12,0 0,49 -24,-3 -4,-1 -8,-9 -8,-4.5 -2.5,-2 -2,-4zM139,484l1.5,-2 3.5,-1.5 6,-.5 4,1 2,2.5 1,2.5 .5,4 0,4 -18.5,0 -1,-4z"/>
<path fill="#faed0c" d="M158,50l1,-2 29,0 0,12.5 -20,1 -8,-1 -1,-.5 -1.5,-2 -.5,-4zM50,122l8,1 10,2 4,2 2,2 4,6 6,9.5 2,5.5 .5,4 -.5,4 -5,16 -1.5,8 .5,18 -2,16 -1.5,6 -5,12 -1,4 0,2 1.5,1.5 38,-5.5 18,-1 24,0 24,-6 12,-1.5 0,25.5 -22,0 -34,2.5 -24,-.5 -12,-1 -12,-3 -6.5,-3 -3,-2 -4.5,-4 -20,3.5zM188,169l0,19.5 -2,-1 -2,-2 -1.5,-3.5 0,-2 .5,-4 1,-3 2,-2.5zM188,338l-8,0 -4,-.5 -4,-1.5 -4,-2.5 -14,-12.5 -4,-2.5 -4,-1.5 -10,-1.5 -30,-1.5 -8,-1 -12.5,-3 -4.5,-2 -1,-2 2.5,-2 4.5,-2 11,-2.5 10,-1.5 28,-1 8,-1.5 16,-4 14,-1.5 14,-1zM50,301.5l10,1.5 7.5,3 2,2 0,2 -1.5,5.5 -2,10.5 -2.5,6 -5.5,6.5 -4,3.5 -4,2zM145,454l9,-7 10,-11 4,-2.5 4,-1 4,-.5 6,0 6,.5 0,45 -20,-1.5 -6,-2 -2,-1.5 -6,-6 -8,-6.5 -1.5,-2 0,-2zM143,486l1,-1.5 2,-1 4,-.5 2,.5 2,2 1,2.5 0,4 -.5,2 -11,0 -1.5,-2 0,-2 0,-2z"/>
<path fill="#fde40c" d="M160,52l.5,-2 2,-2 25.5,0 0,11.5 -16,.5 -4,0 -4,-1 -2,-1 -1.5,-2zM50,123.5l8,1 6,1.5 4,1.5 4,2.5 4,4.5 6.5,9.5 3,6 0,4 -.5,4 -4.5,14 -2,8 0,6 .5,12 -1.5,16 -1,6 -1.5,4 -6,12 -3,3.5 -5.5,2.5 -10.5,2zM188,170.5l0,16.5 -3,-3 -1,-2.5 -.5,-3.5 1.5,-4 1,-2zM188,227.5l0,25 -22,0 -34,2.5 -26,-1 -12,-1.5 -8,-2 -6,-2.5 -2.5,-2 -1,-2 2.5,-2 25,-5 7.5,-1 12.5,-.5 28,0 4,-1 18,-4.5zM188,336l-10,-.5 -6,-1.5 -4,-2.5 -14,-12 -6,-3 -10,-1.5 -38,-2.5 -11,-2.5 -4,-2 -1.5,-2 1.5,-2 4.5,-2 8.5,-2 10,-1.5 30,-1.5 22,-5 14.5,-2 13.5,-1zM50,302l6,1 6,2 2.5,1 2.5,2 .5,2 -2.5,16 -2.5,6 -5,6 -3.5,3 -4,2.5zM168,435l4,-1.5 4,-.5 6,.5 6,1 0,41.5 -16,-1 -4,-.5 -4,-1 -4,-3 -11.5,-10.5 -1,-2 0,-2 1,-2 7.5,-7.5 7.5,-8.5zM147,488l1,-.5 2,-.5 1,1 1,2 -.5,2 -1.5,.5 -3,-.5 -1,-2z"/>
<path fill="#fcd70e" d="M162.5,52l1,-2 3.5,-2 21,0 0,10 -12,1 -8,-.5 -2,-1 -2.5,-1.5 -1,-2zM50,125l8,1 6,2 4,1.5 4,3 4,4 6,8 2.5,5.5 .5,4 -1,4 -4.5,14 -2,8 -.5,4 .5,10 -.5,10 0,10 -.5,4 -1,4 -5.5,10 -4,5.5 -2,1.5 -4,1.5 -10,2.5zM188,172l0,13 -2,-3 -1,-4 1,-4zM188,228l0,24 -20,0 -36,2.5 -22,-.5 -14,-1.5 -9,-2.5 -4.5,-2 -2.5,-2 -.5,-2 3.5,-2 21,-4.5 11.5,-1.5 8.5,-.5 28,.5 6,-1.5 17.5,-4.5zM188,334l-10,-.5 -6,-1.5 -4,-3 -14,-11 -6,-2.5 -8,-1.5 -32,-1 -8,-1 -8,-2 -4.5,-2 -1,-2 1,-2 4,-2 7.5,-2 9,-1 30,-1.5 6,-1 17.5,-4.5 15.5,-2 11,-.5zM50,302.5l7.5,1.5 5,2 2,2 1,2 .5,2 -1.5,12 -1.5,6 -2.5,4 -2.5,2.5 -4,3.5 -4,2.5zM168,436l4,-1 4,-.5 6,.5 6,1 0,38.5 -14,0 -8,-1.5 -4,-2.5 -11,-10.5 -1,-2 0,-2 1,-2 12,-14z"/>
<path fill="#fcca11" d="M165.5,52l1.5,-2 5,-1.5 6,0 10,1.5 0,6 -10,1 -8,0 -2.5,-1 -2,-2zM50,126.5l6,.5 6,2 6,2.5 4,3 6,6 4,5.5 1.5,4 .5,4 -.5,4 -5.5,14 -2,8 -.5,4 .5,10 -.5,10 1,10 -.5,4 -1,4 -5,8.5 -2.5,3.5 -3.5,3 -6,3 -8,2zM188,174l0,8 -1,-2 -.5,-2 .5,-2zM188,228.5l0,23 -20,-.5 -32,2.5 -20,0 -12,-1 -10,-1.5 -8,-2.5 -3.5,-2.5 0,-2 4,-2 16,-4 21.5,-2 28,.5 6,-1 19,-5.5zM188,332l-8,0 -6,-1.5 -6,-3.5 -12,-9.5 -6,-2.5 -8,-1.5 -32,-1 -8,-1 -8,-2 -3.5,-1.5 -1.5,-2 1,-2 4,-2 8,-2 38,-2.5 23.5,-5.5 14.5,-2 10,-.5zM50,303l6,1.5 4,1.5 2,1.5 2,2.5 .5,4 -.5,10 -2,6 -2,3.5 -2.5,2.5 -3.5,3 -4,2.5zM168,437.5l4,-1.5 4,-.5 4,.5 8,1.5 0,35 -12,1 -4,-.5 -4.5,-1 -5.5,-3 -9,-9 -1,-2 0,-2 .5,-2 10,-12 3.5,-3.5z"/>
<path fill="#fabc13" d="M169,52l3,-1.5 4,-.5 4,.5 4,1.5 -1,2 -7,1.5 -4,-.5 -2,-.5zM50,127.5l6,1 6,2 6,2.5 4,3 4,4 5,6 1.5,4 .5,4 -.5,4 -5.5,14 -2.5,8 0,4 .5,10 -.5,10 1,10 0,4 -1.5,4 -4,7.5 -4,4.5 -2,2 -6,3 -8,2zM188,228.5l0,22.5 -20,-1.5 -28,3.5 -10,.5 -12,-.5 -14,-1 -8,-1.5 -8,-2.5 -3,-2 .5,-2 4,-2 16,-4 12.5,-1.5 10,-.5 22,1 4,0 20,-6zM188,330l-8,0 -6,-2 -6,-3 -12.5,-9 -5.5,-2.5 -8,-1 -38,-1.5 -8,-1.5 -3,-1.5 -2,-2 1,-2 4,-2 8,-1.5 36,-2.5 6,-1 9.5,-3 9.5,-2 23,-2.5zM50,303.5l6,1.5 2.5,1 2.5,2 1.5,2 1,2 0,4 -1,10 -2.5,6 -4,4.5 -6,4zM168,439l4,-1.5 4,-.5 4,.5 8,1.5 0,32 -12,1 -4,0 -4,-1 -2.5,-1 -3.5,-2.5 -7.5,-7.5 -1,-2 0,-2 1,-2 7.5,-10 4,-4z"/>
<path fill="#f8ae16" d="M50,129l6,1 6,2 6,3 4,2.5 4,4 4,5 2,3.5 .5,4 -1,4 -6.5,16 -2,8 .5,12 -.5,8 2,12 0,4 -1,3 -1.5,3 -2.5,4 -6,6.5 -6,3.5 -8,2zM188,229l0,21 -10,-1 -10,-2.5 -2,0 -8.5,3.5 -9.5,1.5 -12,1 -14,0 -11.5,-.5 -12.5,-2 -7,-2 -3,-2 0,-2 4.5,-2 6.5,-2 9.5,-2 21.5,-1.5 24,1 4,-1 14,-4.5 9,-2zM188,328l-8,-.5 -6,-1.5 -6,-3.5 -12,-7.5 -6,-2.5 -8,-.5 -30,-1 -8,-.5 -8,-2.5 -2.5,-2 1,-2 4,-2 5.5,-1 7,-1 29,-1.5 6,-1 11.5,-3.5 9.5,-2 21,-2zM50,304l6,2 3.5,2 2,2 .5,1.5 .5,4.5 -.5,8 -1.5,6 -2.5,3.5 -2,2 -6,4.5zM156,454l8,-10.5 4,-3.5 2,-1 4,-.5 4,0 10,2 0,29 -6,1 -6,.5 -6,-.5 -4,-1.5 -6,-4.5 -4,-4.5 -1,-2 0,-2z"/>
<path fill="#f6a119" d="M50,130.5l6,1 6,2 6,3 4,2.5 5,5 3,4 1.5,4 0,2 -1.5,5.5 -7.5,16.5 -1.5,6 1,12 -.5,8 3,12 -.5,6 -2,4 -2,3 -6,6.5 -6,3.5 -8,2zM188,229.5l0,20 -10,-1.5 -8,-3.5 -4,-.5 -2,0 -2,1 -3,3 -5.5,2 -14,2 -15.5,0 -22,-2 -8,-2 -3,-2 0,-2 4.5,-2 6.5,-2 10.5,-2 19.5,-1 22,1 4,-.5 9,-3.5 6.5,-2zM188,326.5l-8,-1 -6,-1.5 -6,-3 -11,-7 -7,-2.5 -8,-.5 -35,-1 -9,-2 -2,-2 .5,-2 4.5,-2 13,-1.5 26,-1.5 8,-1.5 11,-3.5 10.5,-2 18.5,-1.5zM50,305l6,2 2,1 2,2 1.5,4 .5,4 -1,8 -1.5,4 -3.5,4.5 -6,4.5zM157.5,454l6.5,-9 3.5,-3 2.5,-1.5 4,-1 4,.5 10,2 0,26 -6,1 -6,1 -4,-.5 -4,-1 -6,-4 -4.5,-4.5 -1,-2 0,-2z"/>
<path fill="#f4901a" d="M50,132l6,1.5 6,1.5 8,4 4,3 4,4.5 2,3.5 .5,4 -2,6 -7.5,16 -1.5,6 1,12 -.5,8 3,8 1,4 -1,6 -3,6 -6,6.5 -6,3.5 -8,2zM188,230l0,19 -6,-1 -9,-4 -9,-2 -2,.5 -2,.5 -2,3 -2,2 -4,1.5 -6,1 -10,1 -12,0 -15.5,-1.5 -10,-2 -4.5,-2 .5,-2 4,-2 6.5,-2 9,-1.5 8,-1 10,-.5 8,.5 14,1.5 4,0 5.5,-3 5,-2 9.5,-2.5zM188,324.5l-8,-1 -6,-1.5 -6,-3 -10,-5.5 -8,-3 -8,-.5 -32,-.5 -8.5,-1.5 -3,-2 .5,-2 5.5,-2 9.5,-1 28,-1.5 8,-2 11,-3.5 13,-2.5 14,-1zM50,305.5l6,2.5 2.5,2 2,4 .5,4 -.5,6 -2,6 -3,4 -5.5,4zM159,454l2.5,-4 3,-4 3.5,-3 2,-1 4,-1 4,0 10,3 0,22 -7,2 -5,.5 -4,0 -4,-1 -5,-3.5 -4,-4 -1,-2 0,-2z"/>
<path fill="#f2801a" d="M50,134l6,1 6,1.5 8,4 4,3 4,4.5 1.5,4 0,2 -2,6 -9,16 -1.5,6 0,4 1.5,8 0,8 3.5,8 1,4 .5,2 -1,4 -3,6 -6,6 -5.5,3.5 -8,2zM163,238l2.5,-2 4.5,-2 8,-2 10,-2 0,18 -6,-1.5 -6,-2.5 -13,-4zM98,244l4,-2 7,-2 12,-2 7,-.5 8,0 8,1 8.5,1.5 4,2 0,2 -1,2 -2.5,2 -7,2 -12,1.5 -12,-1 -18,-2.5 -6,-2zM188,323l-8,-1 -6,-2 -6,-2.5 -10.5,-5.5 -7.5,-2.5 -8,-.5 -30,0 -6.5,-1 -4.5,-2 1,-2 6.5,-2 27.5,-1.5 12,-1.5 15,-5 11,-2 14,-1zM50,306l4.5,2 3,2 2,4 .5,4 -.5,6 -1.5,6 -3.5,4 -4.5,3zM160,454l2.5,-4 3.5,-4 3,-2 3,-1.5 6,0 10,3 0,18.5 -6,2.5 -6,1 -4,0 -4,-1.5 -4,-2.5 -3.5,-3.5 -1,-2 0,-2z"/>
<path fill="#f06f1b" d="M50,136.5l6,.5 6,1 4,1.5 4,2.5 4,3 2.5,3 1.5,2.5 .5,3.5 -.5,2 -2,4.5 -4,6.5 -7.5,11 -1.5,4 .5,4 2.5,8 1,8 4,8 1.5,4 0,2 -.5,4 -3.5,6 -6,6 -6.5,3.5 -6,1zM165.5,238l2,-2 4.5,-2 7.5,-2 8.5,-1.5 0,16.5 -4.5,-1 -16.5,-6zM103,244l3.5,-2 7,-2 10.5,-1.5 8,-.5 8,.5 9,1.5 4.5,2 .5,2 -.5,2 -3,2 -2.5,1 -6,1 -10,1 -10,-1 -10,-2 -8,-2zM188,321l-6,-.5 -8,-2 -6,-2.5 -10,-5 -8,-2.5 -10,-1 -26,.5 -6,-1 -3.5,-1 1,-2 4.5,-1 6,-1 26,-1 8,-1.5 8.5,-3.5 6.5,-2 11.5,-2 11.5,-1zM50,307l4,1.5 2,1.5 1.5,2 1.5,4 0,4 -.5,6 -1.5,4 -3,3.5 -4,3zM161,456l2,-4 3,-4 2,-2 4,-2 6,0 10,3.5 0,14.5 -8,3.5 -6,.5 -4,-.5 -2,-.5 -4,-3 -2,-2 -1,-2z"/>
<path fill="#ef5d1b" d="M50,138.5l10,1 8,2.5 6,4.5 2,2.5 1.5,3 0,2 -1.5,4 -4,6.5 -6,7 -6,4 -4,.5 -6,-2.5zM58,191.5l2,.5 2,1.5 1.5,2.5 3,8 5,8 .5,2.5 0,3.5 -2.5,6 -5.5,6 -6,4 -8,2 0,-43.5zM167.5,238l1.5,-2 5,-2 7.5,-2 6.5,-1 0,15 -4,-1 -14,-5zM110.5,244l2,-2 5,-2 8.5,-1.5 6,0 6,0 8,1.5 5,2 1,2 -.5,2 -3.5,2 -6,1.5 -8,.5 -8,0 -8,-2 -5,-2zM188,291.5l0,28 -8,-1 -6,-1.5 -18,-8 -10,-2.5 -8,-.5 -20,1 -8,-1 .5,-2 11.5,-1 18,0 8,-2 12.5,-5 6.5,-2 12.5,-2zM50,307.5l4,2 2.5,2.5 1.5,4 .5,4 -1,6 -1.5,4 -2,2.5 -4,3zM162.5,456l1.5,-3.5 2,-2.5 2,-2 4,-2 4,-.5 3,.5 5,2 4,2 0,9 -4.5,3 -5.5,2 -6,.5 -4,-1 -4,-3.5 -1,-2z"/>
<path fill="#ed4a1b" d="M50,141l8,-.5 8,2 6,3.5 3.5,4 .5,2 0,2 -.5,2 -2,4 -5.5,7 -2,2 -4,2 -2,.5 -4,0 -6,-1.5zM56,194.5l4,1.5 2,2 8.5,14 1,4 0,2 -1.5,4 -1.5,2 -5.5,6 -5,3 -8,2.5 0,-41zM188,245.5l-15.5,-5.5 -2.5,-2 1,-2 4.5,-2 8.5,-2 4,-.5zM116,244l1,-2 4.5,-2 10.5,-1 6,0 5.5,1 5.5,2 1,2 -.5,2 -3.5,2 -6,1 -6,.5 -6,0 -6.5,-1.5 -3.5,-2zM188,318l-8,-1 -8,-2 -21,-9 -3,-2 2.5,-2 12,-6 7.5,-2 12,-2 6,-.5zM50,308.5l3,1.5 2.5,2 1.5,4 .5,4 -.5,4 -1,4 -3,4 -3,2.5zM164.5,456l1.5,-3.5 2,-2.5 3,-2 3,-.5 4,0 4,2 3,2.5 1,2 0,2 -1,2 -2.5,2 -4.5,2.5 -4,.5 -4,-.5 -2,-1 -2,-1.5 -1.5,-2z"/>
<path fill="#ec381b" d="M50,143l8,-.5 6,.5 6,3 4,4 1,2 0,2 -1,3 -4,5.5 -4,4 -2,1 -4,1 -4,0 -6,-1zM50,196l6,.5 4,2 2,2.5 6.5,9 1.5,2.5 1,3.5 0,2 -2,4 -5,6.5 -6,4 -8,2.5zM188,244.5l-13,-4.5 -3,-2 1,-2 4.5,-2 10.5,-2zM119.5,244l.5,-2 4,-1.5 8,-1 6,0 4,1 4.5,1.5 2,2 -1,2 -3.5,1.5 -4,1 -6,.5 -9,-1 -4,-2zM153.5,304l1,-2 2.5,-2 8,-4 7,-2 16,-2 0,24.5 -10,-1 -8,-2.5 -15,-7zM50,309.5l4,2.5 1.5,2 .5,2 .5,4 0,4 -1.5,4 -3,4 -2,1.5zM166.5,456l.5,-2 1.5,-2 3,-2 2.5,-.5 4,.5 2.5,2 1.5,2 0,2 -1.5,2 -2.5,2 -4,1 -2,0 -3,-1 -2,-2z"/>
<path fill="#e92a1b" d="M50,145l6,-1 4,0 4,.5 4,1.5 4,3.5 1.5,2.5 0,2 -1.5,4 -4,4.5 -2,1.5 -4,2 -6,0 -6,-1zM50,197.5l6,1 4,2 8,10 2,3.5 0,2 0,2.5 -1.5,3.5 -4.5,5.5 -6,4 -4,2 -4,.5zM175,236l5,-2 8,-1.5 0,11 -11,-3.5 -3,-2zM122,244l1,-2 3,-1.5 3,-.5 5,0 4,0 6,1.5 2.5,2.5 -1,2 -3.5,1.5 -4,1 -4,0 -5,-.5 -5.5,-2zM158,302l5,-4 4.5,-2 7.5,-2 13,-1.5 0,22.5 -10,-1 -10,-3 -9.5,-5 -1.5,-2zM50,310.5l2.5,1.5 2,2 .5,2 1,4 -.5,4 -1.5,4 -2,2.5 -2,2zM170,456l1,-2 3,-1 2.5,1 .5,2 -3,2 -2.5,0z"/>
<path fill="#e61d1c" d="M50,147.5l8,-2 4,.5 4,1 2.5,1 2,2 1,2 .5,2 -1,2 -3,4 -2,1.5 -4,2 -6,.5 -6,-1.5zM50,198.5l6,1 4,3 7,7.5 2,4 .5,2 0,2 -1.5,4 -4,4.5 -6,4.5 -4,1.5 -4,1zM177,236l5.5,-2 5.5,-1 0,9.5 -8,-2.5 -3.5,-2zM124.5,244l1.5,-2 4,-1.5 4,0 8,1.5 2.5,2 -1,2 -5.5,1.5 -4,.5 -4,-.5 -4,-1.5zM161,302l4.5,-4 4.5,-2 8,-2 10,-1 0,20.5 -10,-1 -9,-2.5 -7,-4 -1.5,-2zM50,311.5l3,2.5 1,2 1,4 -1,6 -2,3.5 -2,1.5z"/>
<path fill="#e4191c" d="M50,150l8,-2.5 6,.5 4,2 1.5,2 .5,2 -2,3.5 -4,3 -4,1 -4,-.5 -6,-1.5zM50,199.5l6,1.5 4,2.5 6,6.5 2,3 1,3 0,2 -1,2.5 -4,5.5 -6,4.5 -4,1.5 -4,1zM188,233.5l0,8.5 -6,-2 -3.5,-2 1,-2zM127,244l1.5,-2 5.5,-1 6,1 2.5,2 -1.5,2 -7,1 -5,-1zM188,293.5l0,18.5 -8,-.5 -7,-1.5 -5,-2 -3,-2 -1.5,-2 .5,-2 2,-2 2.5,-2 4.5,-2 9,-2zM50,312.5l2,1.5 1,2 1,4 -.5,4 -.5,2 -3,4z"/>
<path fill="#e2181d" d="M52.5,154l1.5,-2 4,-2 2,0 3,0 3.5,2 .5,2 -1,2 -2,1.5 -4,1 -4,-.5 -2.5,-2zM50,200.5l6,1.5 4,2.5 6,6.5 1.5,3 .5,2 -.5,4 -1.5,2.5 -3,3.5 -5.5,4 -7.5,2.5zM182,236l6,-1.5 0,6.5 -3,-1 -4,-2zM129.5,244l2.5,-1.5 2,-.5 2,0 4,2 -2,1.5 -4,.5 -2,-.5zM167.5,302l2,-2 2.5,-2 4.5,-2 11.5,-2 0,16.5 -8,-.5 -7.5,-2 -4,-2 -1.5,-2zM50,313.5l2,2.5 1,4 -.5,4 -1,2 -1.5,2.5z"/>
<path fill="#e0171d" d="M50,201l6,2 4,3 6,6 1.5,4 -.5,4 -1,2 -4,4 -6,4 -6,2zM185.5,236l2.5,-.5 0,4 -4,-1.5zM171.5,302l5,-4 5,-2 6.5,-1 0,14 -8,-1 -6,-1.5 -2.5,-2.5zM50,315.5l1.5,2.5 .5,2 -.5,4 -1.5,2.5z"/>
<path fill="#da171d" d="M50,202l6,2 4,2.5 5,5.5 2,4 -1,4 -1,2 -3,3.5 -6,4 -6,2zM178,302l5.5,-4 4.5,-1 0,10 -6.5,-1 -3.5,-2zM50,317.5l.5,2.5 -.5,4z"/>
<path fill="#cb181f" d="M50,203l6,2 4,2.5 4.5,4.5 1.5,4 0,2 -.5,2 -3.5,4.5 -6,4.5 -6,1.5z"/>
<path fill="#b91a20" d="M50,204l6,2 6,4 3,4 .5,2 0,2 -2,4 -3.5,3.5 -4,2.5 -6,2z"/>
<path fill="#a61b22" d="M50,205l6,1.5 5,3.5 3,4 1,2 0,2 -2,4 -3,3 -4,2.5 -6,2z"/>
<path fill="#941a21" d="M50,206l6,1.5 4,2.5 3.5,4 .5,2 0,2 -2,4 -2,2.5 -4,2 -6,2z"/>
<path fill="#83191f" d="M50,207l4,.5 5,2.5 3.5,4 .5,4 -1,3 -3,3 -3,2 -6,2z"/>
<path fill="#fff" d="M50.0,48.6L50,125.9L51.7,125.9L53.5,125.9L55.2,125.9L56.9,125.9L58.7,126L60.4,126L62.1,126.1L63.9,126.1L65.6,126.1L67.3,126L69.1,125.9L70.8,125.8L72.5,125.5L74.3,125.2L76,124.8L77.7,124.2L79.5,123.6L81.2,122.9L82.9,122.1L84.7,121.3L86.4,120.5L88.2,119.6L89.9,118.7L91.6,117.8L93.4,116.8L95.1,115.9L96.8,115L98.6,114L100.3,113L102,112L103.8,111L105.5,110L107.2,108.9L109,107.9L110.7,106.8L112.4,105.8L114.2,104.7L115.9,103.7L117.6,102.6L119.4,101.6L121.1,100.5L122.8,99.3L124.6,98L126.3,96.7L128,95.3L129.8,93.8L131.5,92.3L133.2,90.6L135,88.9L136.7,87.2L138.4,85.5L140.2,83.7L141.9,81.9L143.6,80.2L145.4,78.5L147.1,76.8L148.8,75.3L150.6,73.8L152.3,72.4L154.1,71.2L155.8,70.1L157.5,69.1L159.3,68.2L161,67.4L162.7,66.8L164.5,66.2L166.2,65.8L167.9,65.5L169.7,65.2L171.4,65L173.1,64.8L174.9,64.7L176.6,64.6L178.3,64.6L180.1,64.5L181.8,64.5L183.5,64.4L185.3,64.4L187,64.3L187.0,48.6ZM50.0,493.2L50,404.9L51.7,405.3L53.5,405.7L55.2,406.2L56.9,406.6L58.7,407L60.4,407.4L62.1,407.8L63.9,408.3L65.6,408.7L67.3,409.1L69.1,409.5L70.8,409.9L72.5,410.3L74.3,410.8L76,411.2L77.7,411.7L79.5,412.2L81.2,412.7L82.9,413.2L84.7,413.7L86.4,414.3L88.2,414.9L89.9,415.4L91.6,416L93.4,416.7L95.1,417.3L96.8,418L98.6,418.8L100.3,419.6L102,420.5L103.8,421.4L105.5,422.4L107.2,423.5L109,424.7L110.7,426L112.4,427.3L114.2,428.7L115.9,430.2L117.6,431.8L119.4,433.4L121.1,435.1L122.8,436.8L124.6,438.5L126.3,440.2L128,441.9L129.8,443.5L131.5,445.1L133.2,446.7L135,448.3L136.7,449.8L138.4,451.2L140.2,452.6L141.9,454L143.6,455.3L145.4,456.5L147.1,457.7L148.8,458.9L150.6,459.9L152.3,461L154.1,461.9L155.8,462.8L157.5,463.7L159.3,464.6L161,465.4L162.7,466.2L164.5,467L166.2,467.9L167.9,468.7L169.7,469.6L171.4,470.5L173.1,471.3L174.9,472.2L176.6,473.1L178.3,474L180.1,474.9L181.8,475.8L183.5,476.8L185.3,477.7L187,478.6L187.0,493.2Z"/>
</g>
<g stroke="#4a4444" stroke-width="1" fill="none">
<rect x="52.7" y="50.6" width="132.0" height="440.6"/>
<path d="M52.7,57.3 h3.5M184.7,57.3 h-3.5M52.7,152.8 h3.5M184.7,152.8 h-3.5M52.7,189.5 h3.5M184.7,189.5 h-3.5M52.7,226.2 h3.5M184.7,226.2 h-3.5M52.7,263.0 h3.5M184.7,263.0 h-3.5M52.7,299.7 h3.5M184.7,299.7 h-3.5M52.7,336.4 h3.5M184.7,336.4 h-3.5M52.7,380.5 h3.5M184.7,380.5 h-3.5M52.7,483.3 h3.5M184.7,483.3 h-3.5M59.4,50.6 v3.5M59.4,491.2 v-3.5M88.8,50.6 v3.5M88.8,491.2 v-3.5M118.2,50.6 v3.5M118.2,491.2 v-3.5M147.6,50.6 v3.5M147.6,491.2 v-3.5M177.0,50.6 v3.5M177.0,491.2 v-3.5"/>
</g>
<g font-size="14.8">
<text x="49.3" y="62.3" text-anchor="end">23.5</text>
<text x="49.3" y="157.8" text-anchor="end">36.5</text>
<text x="49.3" y="194.5" text-anchor="end">41.5</text>
<text x="49.3" y="231.2" text-anchor="end">46.5</text>
<text x="49.3" y="268.0" text-anchor="end">51.5</text>
<text x="49.3" y="304.7" text-anchor="end">56.5</text>
<text x="49.3" y="341.4" text-anchor="end">61.5</text>
<text x="49.3" y="385.5" text-anchor="end">67.5</text>
<text x="49.3" y="488.3" text-anchor="end">81.5</text>
<text x="59.4" y="506.5" text-anchor="middle">0</text>
<text x="88.8" y="506.5" text-anchor="middle">4</text>
<text x="118.2" y="506.5" text-anchor="middle">8</text>
<text x="147.6" y="506.5" text-anchor="middle">12</text>
<text x="177.0" y="506.5" text-anchor="middle">16</text>
<text x="118.4" y="522.3" text-anchor="middle">Distance(m)</text>
<text transform="translate(16,264.5) rotate(-90)" text-anchor="middle">Depth(m)</text>
<text x="115.35" y="25.3" font-size="15.2" text-anchor="middle" textLength="136.9">Relative permittivity</text>
<text x="115.3" y="42.1" font-size="15.2" text-anchor="middle" textLength="150.6">from ray-based method</text>
<text x="206.6" y="43" font-size="16">ε<tspan font-size="14.5" dy="1.6">r</tspan></text>
<text x="123.9" y="541.3" font-size="15" text-anchor="middle">(<tspan font-weight="bold">a</tspan>)</text>
</g>
<rect x="201" y="484.12" width="23.8" height="7.38" fill="#1b2d71"/>
<rect x="201" y="477.24" width="23.8" height="7.38" fill="#1a327c"/>
<rect x="201" y="470.37" width="23.8" height="7.38" fill="#1a3887"/>
<rect x="201" y="463.49" width="23.8" height="7.38" fill="#1a3d91"/>
<rect x="201" y="456.61" width="23.8" height="7.38" fill="#1a439a"/>
<rect x="201" y="449.73" width="23.8" height="7.38" fill="#1a48a3"/>
<rect x="201" y="442.85" width="23.8" height="7.38" fill="#1a4da8"/>
<rect x="201" y="435.98" width="23.8" height="7.38" fill="#1a50aa"/>
<rect x="201" y="429.10" width="23.8" height="7.38" fill="#1a54ac"/>
<rect x="201" y="422.22" width="23.8" height="7.38" fill="#1a58af"/>
<rect x="201" y="415.34" width="23.8" height="7.38" fill="#1b5cb1"/>
<rect x="201" y="408.46" width="23.8" height="7.38" fill="#1b60b3"/>
<rect x="201" y="401.58" width="23.8" height="7.38" fill="#1b65b5"/>
<rect x="201" y="394.71" width="23.8" height="7.38" fill="#1c6bb8"/>
<rect x="201" y="387.83" width="23.8" height="7.38" fill="#1c70bb"/>
<rect x="201" y="380.95" width="23.8" height="7.38" fill="#1d79c0"/>
<rect x="201" y="374.07" width="23.8" height="7.38" fill="#1d81c6"/>
<rect x="201" y="367.19" width="23.8" height="7.38" fill="#1e8bcc"/>
<rect x="201" y="360.32" width="23.8" height="7.38" fill="#239ad8"/>
<rect x="201" y="353.44" width="23.8" height="7.38" fill="#2ba8e1"/>
<rect x="201" y="346.56" width="23.8" height="7.38" fill="#37b0e4"/>
<rect x="201" y="339.68" width="23.8" height="7.38" fill="#43b7e5"/>
<rect x="201" y="332.80" width="23.8" height="7.38" fill="#51bce4"/>
<rect x="201" y="325.93" width="23.8" height="7.38" fill="#5dc0e0"/>
<rect x="201" y="319.05" width="23.8" height="7.38" fill="#65c2d4"/>
<rect x="201" y="312.17" width="23.8" height="7.38" fill="#6dc3c8"/>
<rect x="201" y="305.29" width="23.8" height="7.38" fill="#75c5bb"/>
<rect x="201" y="298.41" width="23.8" height="7.38" fill="#7dc6aa"/>
<rect x="201" y="291.53" width="23.8" height="7.38" fill="#86c899"/>
<rect x="201" y="284.66" width="23.8" height="7.38" fill="#8eca89"/>
<rect x="201" y="277.78" width="23.8" height="7.38" fill="#96cb7a"/>
<rect x="201" y="270.90" width="23.8" height="7.38" fill="#9ecd6b"/>
<rect x="201" y="264.02" width="23.8" height="7.38" fill="#a7cf5d"/>
<rect x="201" y="257.14" width="23.8" height="7.38" fill="#b0d24f"/>
<rect x="201" y="250.27" width="23.8" height="7.38" fill="#bad541"/>
<rect x="201" y="243.39" width="23.8" height="7.38" fill="#c4d835"/>
<rect x="201" y="236.51" width="23.8" height="7.38" fill="#cfdc2c"/>
<rect x="201" y="229.63" width="23.8" height="7.38" fill="#dae022"/>
<rect x="201" y="222.75" width="23.8" height="7.38" fill="#e4e41a"/>
<rect x="201" y="215.88" width="23.8" height="7.38" fill="#f0e913"/>
<rect x="201" y="209.00" width="23.8" height="7.38" fill="#faed0c"/>
<rect x="201" y="202.12" width="23.8" height="7.38" fill="#fde40c"/>
<rect x="201" y="195.24" width="23.8" height="7.38" fill="#fcd70e"/>
<rect x="201" y="188.36" width="23.8" height="7.38" fill="#fcca11"/>
<rect x="201" y="181.48" width="23.8" height="7.38" fill="#fabc13"/>
<rect x="201" y="174.61" width="23.8" height="7.38" fill="#f8ae16"/>
<rect x="201" y="167.73" width="23.8" height="7.38" fill="#f6a119"/>
<rect x="201" y="160.85" width="23.8" height="7.38" fill="#f4901a"/>
<rect x="201" y="153.97" width="23.8" height="7.38" fill="#f2801a"/>
<rect x="201" y="147.09" width="23.8" height="7.38" fill="#f06f1b"/>
<rect x="201" y="140.22" width="23.8" height="7.38" fill="#ef5d1b"/>
<rect x="201" y="133.34" width="23.8" height="7.38" fill="#ed4a1b"/>
<rect x="201" y="126.46" width="23.8" height="7.38" fill="#ec381b"/>
<rect x="201" y="119.58" width="23.8" height="7.38" fill="#e92a1b"/>
<rect x="201" y="112.70" width="23.8" height="7.38" fill="#e61d1c"/>
<rect x="201" y="105.82" width="23.8" height="7.38" fill="#e4191c"/>
<rect x="201" y="98.95" width="23.8" height="7.38" fill="#e2181d"/>
<rect x="201" y="92.07" width="23.8" height="7.38" fill="#e0171d"/>
<rect x="201" y="85.19" width="23.8" height="7.38" fill="#da171d"/>
<rect x="201" y="78.31" width="23.8" height="7.38" fill="#cb181f"/>
<rect x="201" y="71.43" width="23.8" height="7.38" fill="#b91a20"/>
<rect x="201" y="64.56" width="23.8" height="7.38" fill="#a61b22"/>
<rect x="201" y="57.68" width="23.8" height="7.38" fill="#941a21"/>
<rect x="201" y="50.80" width="23.8" height="7.38" fill="#83191f"/>
<g stroke="#3a2f33" stroke-width="1" fill="none">
<path d="M201.0,451.0 h4M224.8,451.0 h-4M201.0,411.0 h4M224.8,411.0 h-4M201.0,370.9 h4M224.8,370.9 h-4M201.0,330.9 h4M224.8,330.9 h-4M201.0,290.9 h4M224.8,290.9 h-4M201.0,250.9 h4M224.8,250.9 h-4M201.0,210.9 h4M224.8,210.9 h-4M201.0,170.9 h4M224.8,170.9 h-4M201.0,130.8 h4M224.8,130.8 h-4M201.0,90.8 h4M224.8,90.8 h-4"/>
<path d="M224.8,50.8 V491.0 H201.0 V50.8" stroke-width="0.7" stroke-opacity="0.8"/>
</g>
<g font-size="14.8">
<text x="228.3" y="496.0">1</text>
<text x="228.3" y="456.0">2</text>
<text x="228.3" y="416.0">3</text>
<text x="228.3" y="375.9">4</text>
<text x="228.3" y="335.9">5</text>
<text x="228.3" y="295.9">6</text>
<text x="228.3" y="255.9">7</text>
<text x="228.3" y="215.9">8</text>
<text x="228.3" y="175.9">9</text>
<text x="228.3" y="135.8">10</text>
<text x="228.3" y="95.8">11</text>
<text x="228.3" y="55.8">12</text>
</g>
<defs><clipPath id="cb"><rect x="345" y="57" width="130" height="435"/></clipPath></defs>
<g clip-path="url(#cb)">
<rect x="342" y="54" width="136" height="440" fill="#1b2a6b"/>
<path fill="#1a327c" d="M342,54l136,0 0,440 -136,0z"/>
<path fill="#1a3887" d="M342,54l136,0 0,440 -136,0z"/>
<path fill="#1a3d91" d="M342,54l136,0 0,440 -136,0z"/>
<path fill="#1a439a" d="M342,54l136,0 0,440 -136,0z"/>
<path fill="#1a48a3" d="M342,54l136,0 0,440 -136,0z"/>
<path fill="#1a4da8" d="M342,54l136,0 0,440 -136,0z"/>
<path fill="#1a50aa" d="M342,54l136,0 0,440 -136,0z"/>
<path fill="#1a54ac" d="M342,54l136,0 0,440 -136,0z"/>
<path fill="#1a58af" d="M342,54l136,0 0,440 -136,0z"/>
<path fill="#1b5cb1" d="M342,54l136,0 0,440 -136,0z"/>
<path fill="#1b60b3" d="M342,54l136,0 0,440 -136,0z"/>
<path fill="#1b65b5" d="M342,54l136,0 0,440 -136,0z"/>
<path fill="#1c6bb8" d="M342,54l136,0 0,440 -136,0z"/>
<path fill="#1c70bb" d="M342,54l136,0 0,440 -136,0zM425.5,172l-5.5,-.5 -2,.5 -2,1 -4,1 -4,2 -.5,2 2.5,.5 7,-.5 1,-1 4.5,-1 3,-2zM412.5,220l5,2 2.5,0 2.5,0 8,-2 -4.5,-2 -4,0 -2.5,0zM439.5,274l-3,-2 -12.5,0 -14,1 -17.5,1 -6.5,1 -12,.5 -6,1.5 -8,1 -2,1 -3,1 -1.5,2 .5,2 2,2 2,.5 34,-.5 2,-1 10,-1 2,-1.5 7,-.5 3,-1 14,-1 8.5,-2 1,-2zM422,338l-2,-.5 -6,.5 -10,3.5 -4,1 -11.5,1.5 -5,2 -2,2 -1,2 -1,4 -.5,8 1,4 2,2 5.5,2 4.5,.5 8,-.5 10,-1.5 3,-.5 3,-1.5 2,-2.5 2,-6 2.5,-4 .5,-2 -.5,-2 -3,-6 0,-2z"/>
<path fill="#1d79c0" d="M342,54l136,0 0,440 -136,0zM448.5,274l-.5,-2 -4,-1.5 -4,-.5 -10,.5 -27.5,1.5 -23,2 -14.5,2 -9,2 -4,2 -1,2 0,2 1.5,2 5.5,1.5 8,0 26,-1 22,-3.5 27,-3 6.5,-2 1.5,-2zM429.5,172l-1.5,-1 -4,-.5 -8,1 -7,2.5 -3.5,2 -1.5,2 2.5,2 5,0 4.5,-1 4.5,-1 4.5,-2 3,-2zM364.5,382l3.5,2 2,.5 4,0 1.5,-.5 -2.5,-2 -3,-1 -4,0zM425,336l-5,-.5 -5,.5 -13,3.5 -17.5,2.5 -4.5,2 -2,2 -1,2 -1,6 -.5,6 0,4 .5,2 1.5,2 2.5,2 4,1.5 4,1 6,.5 6,-.5 12,-1.5 4,-1 3,-2 2,-2 2.5,-6 3,-6 0,-2 -.5,-2 -3,-6 .5,-2 2.5,-4zM408.5,220l2.5,2 9,1 9.5,-1 5,-2 -2,-2 -8.5,-1 -10,1z"/>
<path fill="#1d81c6" d="M342,54l136,0 0,440 -136,0zM432,172l-1,-2 -3,-1 -6,.5 -6,1 -8,3 -4.5,2.5 -2,2 0,2 2.5,1 4,0 4,0 6,-1.5 9.5,-3.5 3,-2zM405.5,220l1.5,2 7,1.5 6,0 12,-1 5.5,-2.5 -1,-2 -2.5,-.5 -10,-1 -12,1 -3,.5zM454.5,272l-2.5,-2 -10,-1 -23.5,1 -42.5,3.5 -12,1.5 -11,3 -3.5,2 -1,2 0,2 1.5,2.5 6,1.5 14,.5 22,-1.5 24,-3.5 18,-1.5 14,-2 5.5,-2 1.5,-2zM362.5,380l-.5,2 3.5,2 2.5,1 6,1 3,0 1.5,-2 -3,-2 -3.5,-1.5 -6,-1zM429,336l-5,-1.5 -6,0 -18,3.5 -16,2 -6,2 -2.5,2 -1,2 -1,4 -1,12 .5,4 1,2 2,2 4,2.5 6,1.5 8,1 8,0 14,-3 4,-1.5 2,-1.5 2,-2.5 2.5,-6.5 2.5,-4 .5,-2 0,-2 -4,-8 .5,-2 3,-4z"/>
<path fill="#1e8bcc" d="M342,54l136,0 0,440 -136,0zM434.5,170l-2.5,-1.5 -4,-.5 -6,.5 -6,1 -6,2 -5.5,2.5 -3.5,2 -2,2 -.5,2 3,2 2.5,.5 6,-.5 8,-1.5 6,-2 5.5,-2.5 3,-2 2,-2zM402.5,220l1,2 2.5,1 5,1 7,.5 6,0 8,-1 5,-1.5 3.5,-2 -.5,-2 -4,-1.5 -6,-1 -6,0 -6,0 -8,1.5 -4.5,1zM459.5,272l-1,-2 -2.5,-1 -6,-.5 -8,-.5 -30,2 -42,3.5 -10,1.5 -10,3 -3,2 -1,2 .5,2 .5,2 3,2 6,.5 16,0 22,-1 18,-3 29,-2.5 12.5,-2 5,-2 1.5,-2zM359.5,380l1,2 3,2 6.5,2.5 6,.5 2,0 3,-1 -.5,-2 -2.5,-2 -6,-2.5 -8,-1 -2,0zM431.5,336l-1.5,-1.5 -2,-.5 -8,-.5 -20,3 -16,1.5 -7,2 -3,2 -1.5,2 -1.5,4 -1,14 .5,4 1,2 1.5,2 2,2 4,2 9,2 10,2 6,-1 14,-3.5 3.5,-1.5 3,-2 1.5,-2 2.5,-6 4,-6 0,-2 -.5,-2 -3.5,-6 -.5,-2 .5,-2 2.5,-4z"/>
<path fill="#239ad8" d="M342,54l136,0 0,440 -136,0zM437.5,170l-1.5,-2 -6,-1 -6,0 -8,1.5 -8,2.5 -6,3 -5.5,4 -1,2 1,2 5.5,1.5 8,-.5 8,-1.5 8,-2.5 6,-3 3,-2 2,-2zM399,220l1,2 4,1.5 6,1.5 8,.5 8,-.5 8,-1 6.5,-2 3,-2 -.5,-2 -5,-2 -6,-1 -8,-.5 -8,.5 -8,1.5 -6,1.5zM464,272l-.5,-2 -5,-2 -12.5,-.5 -32,1.5 -42,3 -13.5,2 -8.5,2.5 -3,1.5 -2.5,2 -.5,2 0,2 .5,2 2.5,2 7,1 18,0 24,-1.5 18,-2.5 32,-3 12.5,-2 4.5,-2 1.5,-2zM357,380l1.5,2 3,2 8.5,3 6,1 4,0 2,0 2,-2 -1,-2 -3,-2.5 -6,-3 -6,-1 -6,0 -3,.5zM434,336l-1.5,-2 -2.5,-1 -8,-.5 -8,.5 -14,2 -16,1.5 -8,2 -3,1.5 -2,2 -2,4 -1,6 0,8 0,4 1,4 1,2 2,2.5 4,2.5 19.5,5 10.5,4 2,-4 2.5,-2 11.5,-4 4,-2.5 2.5,-3.5 3,-6 3.5,-4 1,-2 -.5,-2 -4.5,-8 -1,-2 .5,-2 3,-4zM410,386l-.5,0 .5,.5zM412.5,388l-.5,-.5 -.5,.5 .5,.5z"/>
<path fill="#2ba8e1" d="M342,54l136,0 0,440 -136,0 0,-208.5 2,2.5 2,.5 8,1.5 16,-.5 24,-1 18,-2.5 32,-3 14,-2 5,-1 4,-2 1.5,-2 0,-2 -.5,-4 -2.5,-2 -13.5,-1.5 -18,.5 -58,4 -16,2 -6.5,1 -5.5,2 -4,2 -2,2zM440.5,168l-4,-2 -6.5,-.5 -10,1 -8,2 -8,3 -7.5,4.5 -2.5,2 -1.5,2 0,2 3,2 6.5,1 6,-.5 10,-1.5 10,-3.5 6.5,-3.5 5,-4 1,-2zM435.5,334l-5.5,-2 -10,-.5 -20,2 -18,1.5 -6,1 -4,2 -2.5,2 -2,4 -1,4 -1,6 0,8 0,4 1.5,4 2.5,4 -1.5,1.5 -8,1 -4.5,1.5 -.5,2 3,3 6,3 8,2.5 6,.5 4,0 4.5,-1 1,-2 -1,-2 -1.5,-2 1,-1.5 6,1 6,3 20,14 4,1.5 2.5,0 1,-2 0,-2 -.5,-2 -2.5,-4 -6.5,-6 -1.5,-2 0,-2 3,-2 6.5,-2.5 4,-2.5 2.5,-3 3.5,-7 5.5,-5 .5,-2 -1,-2 -4.5,-6 -2,-4 .5,-2 2.5,-4 1,-2zM396,220l0,2 6,2.5 6,1 10,.5 10,-.5 8,-1 8,-2.5 3,-2 -.5,-2 -4.5,-2.5 -8,-1.5 -10,-.5 -10,1 -8,1 -7.5,2.5z"/>
<path fill="#37b0e4" d="M342,54l136,0 0,440 -136,0 0,-205.5 6,1.5 8,.5 32,-1 10,-.5 21.5,-3 30.5,-2.5 8,-1.5 9.5,-2 4,-2 1.5,-2 0,-2 -.5,-4 -1.5,-2 -9,-2 -14,-.5 -28,1.5 -56,4 -14,2.5 -4,1.5 -4,2zM421.5,134l-1.5,-1 -2,.5 -6,2.5 -9,6 -3,4 0,1 2,.5 2,-.5 7,-3 3,-2 5,-4 1.5,-2zM444,168l-2,-2.5 -6,-1.5 -10,0 -8,1.5 -12,3.5 -8,4 -7,5 -1.5,2 -1,2 1,2 2.5,1 6,1.5 8,0 10,-1.5 12,-4 8,-4 6.5,-5 1.5,-2zM368,338l-2.5,4 -2,8 -1,12 .5,4 1.5,6 -.5,2 -10,2.5 -2,1.5 .5,2 2,2 5.5,3.5 4,1.5 8,2.5 10,1 6,-.5 6,-1.5 4,.5 6,3.5 15.5,11.5 6,4 4.5,2 2,.5 1.5,-.5 .5,-2 -3,-12 -2.5,-4 -8,-8 -1,-2 1,-2 7.5,-4 3,-2 1.5,-2 3,-6 2,-2 8,-4 .5,-2 -1.5,-2 -7.5,-8 -1.5,-2 -.5,-2 .5,-2 4,-6 -.5,-2 -3.5,-2 -3.5,-1 -6,-.5 -8,0 -16,1.5 -22,1.5 -6,1.5 -3,1zM391.5,220l.5,2 2,1.5 6,2 10,1.5 12,0 14,-1.5 8,-2 4,-1.5 2.5,-2 0,-2 -4.5,-2.5 -8,-2 -8,-1 -10,0 -8,.5 -10,2 -8,3z"/>
<path fill="#43b7e5" d="M342,54l136,0 0,440 -136,0 0,-204 6,1 8,.5 26,-1 18,-1 12,-1.5 34,-3 16,-2.5 10.5,-2.5 3.5,-2 1.5,-2 -.5,-6 -1,-2 -4,-2 -8,-1 -12,-.5 -16,.5 -26,1.5 -50,4 -12,2 -6,2.5zM430,125l-2,-.5 -6,2.5 -10,5.5 -8,5.5 -5,4 -4.5,4 -2.5,4 0,2 2,1 2,0 6,-1.5 8,-3.5 8,-5.5 5.5,-4.5 5.5,-6 1.5,-4 0,-2zM366,336.5l-3,3.5 -2,4 -.5,4 -1.5,12 .5,4 .5,6 0,2 -8,3 -2,1 -1,2 1,2 2,2 4,2.5 6,3 6,2 10,2 16,1 4,1 5,2.5 17,12.5 10,6 4,1.5 4,1.5 2,0 2,-1 .5,-2.5 -6,-16 -2.5,-4 -8,-10 0,-2 8,-6.5 6,-8.5 2,-1 8,-2.5 2.5,-1.5 0,-2 -1,-2 -1.5,-2 -8,-6.5 -3,-3.5 -.5,-2 0,-2 4,-6 -.5,-2.5 -2,-1.5 -6,-2 -6,-1 -8,0 -40,2.5 -8,1.5 -4,2zM448,166l-2,-2 -2,-1 -4,-1 -6,-.5 -12,1 -10,2 -10,4 -10,6 -7,5.5 -1.5,2 0,2 1.5,2 3,1.5 8,1 10,0 12,-1.5 10,-3.5 6,-3 6,-3.5 4,-3 3.5,-4 .5,-2zM385.5,222l4.5,2.5 10,3 12,1.5 10,0 14,-1.5 10,-2.5 7,-3 2,-2 0,-2 -3,-2.5 -8,-2.5 -14,-2.5 -12,0 -14,2 -10,3 -6,2.5 -2.5,2z"/>
<path fill="#51bce4" d="M342,54l136,0 0,211.5 -4,-1 -8,-1 -16,0 -32,1 -38,2.5 -20,0 -6,1 -12,4.5zM444,105.5l-2,-1 -4,1 -4,2 -4,3 -14.5,15.5 -17.5,13 -7.5,7 -5,6 -1.5,2 0,2.5 2,1.5 4,.5 8,-1.5 6,-2 8,-4 6,-4 6,-4.5 8.5,-8.5 5.5,-8 6.5,-16 0,-2zM453.5,164l-3.5,-3 -4,-1.5 -12,-2.5 -6,-.5 -6,.5 -4,.5 -6,1.5 -4,1.5 -8,4.5 -23.5,15 -2.5,2 -2,3.5 -.5,2.5 .5,2 2,2 2,.5 12,-.5 22,2 6,-.5 4,-.5 4,-1.5 8,-4.5 14,-10 4,-4 2.5,-3 1,-2 .5,-2zM368.5,222l1.5,2.5 2,1.5 2,.5 12,1 20,3.5 8,.5 8,0 8,-.5 8,-1.5 10,-2.5 6,-2 5,-3 2,-2 .5,-2 -1.5,-2 -3.5,-2 -8.5,-3 -18,-4.5 -6,-1 -6,-.5 -10,2 -15.5,5 -6.5,1.5 -12,1 -2,1 -2,2 -1,2.5zM478,280l0,214 -136,0 0,-202.5 16,.5 42,-1 38,-3.5 18,-2.5 12,-2zM360.5,336l-3.5,6 -2.5,8 -1,8 0,10 -.5,2 -7,4 -1.5,2 .5,2 1,2 4,3.5 4,2 12,5.5 10,2.5 15.5,2.5 6,2 6.5,3.5 24,15.5 10,5 4,1.5 4,.5 2,0 2,-1.5 .5,-2.5 -.5,-2 -4.5,-10 -3,-8 -7.5,-14 0,-2 1,-1.5 4.5,-4.5 4,-6 3,-2 6.5,-2 4,-1.5 2,-2.5 0,-2 -2.5,-4 -3.5,-3.5 -7.5,-6.5 -2.5,-3 -.5,-1 .5,-2 3.5,-6 -.5,-2 -1,-2 -6,-3 -12,-2 -10,0 -26,.5 -14,1 -8,2 -6,2.5z"/>
<path fill="#5dc0e0" d="M342,54l136,0 0,208.5 -14,-1.5 -14,-.5 -68,3 -6,-.5 -4,-1 -3,-2 0,-2 1.5,-10 2.5,-6 3.5,-4 5.5,-3 4,-.5 4,0 18,1.5 12,0 10,-.5 8,-1 10,-2 10,-3.5 9.5,-5 2.5,-2 1.5,-2 0,-2 -.5,-2 -2,-2 -5,-3.5 -13.5,-6.5 -2.5,-2 -2,-2 -1,-2 0,-4 1.5,-4 2.5,-4 9.5,-12 3,-4 1.5,-4 0,-2 -1,-3.5 -2,-2.5 -15.5,-10 -2.5,-2 -2.5,-4 0,-2 .5,-4 8.5,-16 5,-12 2,-6 0,-4 -1,-2 -2.5,-1.5 -4,0 -6,1 -8,3.5 -10,6 -9.5,7 -6,6 -12.5,16 -18,18 -6.5,8 -2,4 -2.5,8 -5,10 -1,4 -1,6 1,14 -1,6 -6,14 -8,11 -3,7 -1,4 0,4 2.5,10 -.5,2 -2,2.5zM478,283.5l0,210.5 -136,0 0,-110 12,10 6,3.5 6,3 6,2.5 8,2 18,3 7.5,2 8.5,4 20,11 8,3.5 8,3 6,0 2,-.5 1,-1 1,-2 0,-2 -1,-4 -5,-10 -1.5,-4 -2.5,-12 0,-3 1.5,-3 5,-6 4.5,-6 8.5,-8 1,-2 .5,-2 -.5,-2 -1.5,-4 -10,-18 -2.5,-8 -1,-2 -2,-2 -3.5,-2 -10,-3.5 -10,-1.5 -16,-.5 -32,0 -14,1.5 -8,2.5 -6,3 -7.5,6.5 -4.5,5.5 0,-48 14,1 12,0 56,-2 16,-1.5 16,-2 10,-2z"/>
<path fill="#65c2d4" d="M344,122l4,.5 2,1 4,3 2,2.5 3.5,7 1,6 0,4 -1.5,8 -2,4 -3,5 -2,2 -4,3.5 -2,1 -4,1 0,-48.5zM382.5,252l0,-2 1,-2 1.5,-2 2.5,-2 6.5,-1.5 8,-.5 32,0 26.5,2 10,2 3.5,2 1,2 -4,2 -10,2 -16,2 -33,2 -14,0 -8,-.5 -5,-1.5 -1.5,-2zM361,308l.5,-2 3,-2 7,-2 12.5,-1.5 12,-.5 16,.5 12,1.5 6,1.5 5.5,2.5 2,2 0,2 -2.5,2 -5.5,2 -13.5,2.5 -16,.5 -16,-.5 -12,-2 -7,-2.5 -3,-2z"/>
<path fill="#6dc3c8" d="M344,143.5l2,-.5 2,1 1,2 0,2 -1,2 -2,1 -2,-.5 -1.5,-2.5 0,-2z"/>
<path fill="#fff" d="M344.0,54.4L344,131.1L345.7,131.1L347.3,131L349,131L350.7,131L352.4,131L354,131L355.7,131L357.4,131L359,131L360.7,131L362.4,130.9L364.1,130.7L365.7,130.4L367.4,129.9L369.1,129.4L370.7,128.8L372.4,128.1L374.1,127.3L375.7,126.5L377.4,125.7L379.1,124.9L380.8,124.1L382.4,123.3L384.1,122.5L385.8,121.7L387.4,120.8L389.1,120L390.8,119.1L392.5,118.2L394.1,117.2L395.8,116.2L397.5,115.2L399.1,114.2L400.8,113.2L402.5,112.1L404.2,111L405.8,109.9L407.5,108.8L409.2,107.7L410.8,106.6L412.5,105.4L414.2,104.1L415.8,102.9L417.5,101.6L419.2,100.2L420.9,98.8L422.5,97.4L424.2,95.9L425.9,94.3L427.5,92.7L429.2,91L430.9,89.3L432.6,87.5L434.2,85.7L435.9,83.9L437.6,82.2L439.2,80.6L440.9,79.1L442.6,77.7L444.3,76.5L445.9,75.4L447.6,74.4L449.3,73.6L450.9,72.9L452.6,72.3L454.3,71.8L455.9,71.4L457.6,71.1L459.3,70.8L461,70.6L462.6,70.5L464.3,70.4L466,70.4L467.6,70.3L469.3,70.3L471,70.2L472.7,70.2L474.3,70.1L476,70.1L476.0,54.4ZM344.0,494.3L344,406.6L345.7,407L347.3,407.3L349,407.7L350.7,408.1L352.4,408.5L354,409L355.7,409.4L357.4,409.9L359,410.4L360.7,410.9L362.4,411.4L364.1,412L365.7,412.5L367.4,413L369.1,413.5L370.7,413.9L372.4,414.4L374.1,414.9L375.7,415.4L377.4,415.9L379.1,416.5L380.8,417L382.4,417.6L384.1,418.2L385.8,418.9L387.4,419.6L389.1,420.3L390.8,421.1L392.5,422L394.1,422.9L395.8,423.9L397.5,424.9L399.1,426L400.8,427.2L402.5,428.4L404.2,429.7L405.8,431.1L407.5,432.5L409.2,434L410.8,435.6L412.5,437.2L414.2,438.8L415.8,440.5L417.5,442.1L419.2,443.8L420.9,445.4L422.5,447L424.2,448.6L425.9,450.2L427.5,451.7L429.2,453.1L430.9,454.5L432.6,455.8L434.2,457.1L435.9,458.3L437.6,459.4L439.2,460.4L440.9,461.5L442.6,462.4L444.3,463.3L445.9,464.2L447.6,465L449.3,465.8L450.9,466.6L452.6,467.4L454.3,468.2L455.9,469.1L457.6,469.9L459.3,470.7L461,471.6L462.6,472.4L464.3,473.3L466,474.1L467.6,475L469.3,475.8L471,476.6L472.7,477.4L474.3,478.2L476,479L476.0,494.3Z"/>
</g>
<g stroke="#4a4444" stroke-width="1" fill="none">
<rect x="344.5" y="56.4" width="130.8" height="435.9"/>
<path d="M344.5,63.3 h3.5M475.3,63.3 h-3.5M344.5,157.8 h3.5M475.3,157.8 h-3.5M344.5,194.1 h3.5M475.3,194.1 h-3.5M344.5,230.4 h3.5M475.3,230.4 h-3.5M344.5,266.8 h3.5M475.3,266.8 h-3.5M344.5,303.1 h3.5M475.3,303.1 h-3.5M344.5,339.4 h3.5M475.3,339.4 h-3.5M344.5,383.0 h3.5M475.3,383.0 h-3.5M344.5,484.8 h3.5M475.3,484.8 h-3.5M351.4,56.4 v3.5M351.4,492.3 v-3.5M380.4,56.4 v3.5M380.4,492.3 v-3.5M409.5,56.4 v3.5M409.5,492.3 v-3.5M438.5,56.4 v3.5M438.5,492.3 v-3.5M467.6,56.4 v3.5M467.6,492.3 v-3.5"/>
</g>
<g font-size="15.3">
<text x="343" y="68.2" text-anchor="end" textLength="26.8">23.5</text>
<text x="343" y="162.7" text-anchor="end" textLength="26.8">36.5</text>
<text x="343" y="199.0" text-anchor="end" textLength="26.8">41.5</text>
<text x="343" y="235.3" text-anchor="end" textLength="26.8">46.5</text>
<text x="343" y="271.7" text-anchor="end" textLength="26.8">51.5</text>
<text x="343" y="308.0" text-anchor="end" textLength="26.8">56.5</text>
<text x="343" y="344.3" text-anchor="end" textLength="26.8">61.5</text>
<text x="343" y="387.9" text-anchor="end" textLength="26.8">67.5</text>
<text x="343" y="489.7" text-anchor="end" textLength="26.8">81.5</text>
<text x="350.9" y="507.8" text-anchor="middle">0</text>
<text x="379.9" y="507.8" text-anchor="middle">4</text>
<text x="409.0" y="507.8" text-anchor="middle">8</text>
<text x="438.0" y="507.8" text-anchor="middle">12</text>
<text x="467.1" y="507.8" text-anchor="middle">16</text>
<text x="412.5" y="522.6" text-anchor="middle" textLength="79">Distance(m)</text>
<text transform="translate(308.2,265) rotate(-90)" text-anchor="middle" textLength="62.8">Depth(m)</text>
<text x="410" y="25.9" font-size="16.2" text-anchor="middle" textLength="133.3">Conductivity from</text>
<text x="410.3" y="45.7" font-size="16.2" text-anchor="middle" textLength="128.6">ray-based method</text>
<text x="480.8" y="48" font-size="16.2" textLength="47.3">σ(S/m)</text>
<text x="418.5" y="542.5" font-size="15.5" text-anchor="middle">(<tspan font-weight="bold">b</tspan>)</text>
</g>
<rect x="490.8" y="485.39" width="23.2" height="7.31" fill="#1b2d71"/>
<rect x="490.8" y="478.57" width="23.2" height="7.31" fill="#1a327c"/>
<rect x="490.8" y="471.76" width="23.2" height="7.31" fill="#1a3887"/>
<rect x="490.8" y="464.95" width="23.2" height="7.31" fill="#1a3d91"/>
<rect x="490.8" y="458.14" width="23.2" height="7.31" fill="#1a439a"/>
<rect x="490.8" y="451.32" width="23.2" height="7.31" fill="#1a48a3"/>
<rect x="490.8" y="444.51" width="23.2" height="7.31" fill="#1a4da8"/>
<rect x="490.8" y="437.70" width="23.2" height="7.31" fill="#1a50aa"/>
<rect x="490.8" y="430.89" width="23.2" height="7.31" fill="#1a54ac"/>
<rect x="490.8" y="424.07" width="23.2" height="7.31" fill="#1a58af"/>
<rect x="490.8" y="417.26" width="23.2" height="7.31" fill="#1b5cb1"/>
<rect x="490.8" y="410.45" width="23.2" height="7.31" fill="#1b60b3"/>
<rect x="490.8" y="403.64" width="23.2" height="7.31" fill="#1b65b5"/>
<rect x="490.8" y="396.82" width="23.2" height="7.31" fill="#1c6bb8"/>
<rect x="490.8" y="390.01" width="23.2" height="7.31" fill="#1c70bb"/>
<rect x="490.8" y="383.20" width="23.2" height="7.31" fill="#1d79c0"/>
<rect x="490.8" y="376.39" width="23.2" height="7.31" fill="#1d81c6"/>
<rect x="490.8" y="369.57" width="23.2" height="7.31" fill="#1e8bcc"/>
<rect x="490.8" y="362.76" width="23.2" height="7.31" fill="#239ad8"/>
<rect x="490.8" y="355.95" width="23.2" height="7.31" fill="#2ba8e1"/>
<rect x="490.8" y="349.14" width="23.2" height="7.31" fill="#37b0e4"/>
<rect x="490.8" y="342.32" width="23.2" height="7.31" fill="#43b7e5"/>
<rect x="490.8" y="335.51" width="23.2" height="7.31" fill="#51bce4"/>
<rect x="490.8" y="328.70" width="23.2" height="7.31" fill="#5dc0e0"/>
<rect x="490.8" y="321.89" width="23.2" height="7.31" fill="#65c2d4"/>
<rect x="490.8" y="315.07" width="23.2" height="7.31" fill="#6dc3c8"/>
<rect x="490.8" y="308.26" width="23.2" height="7.31" fill="#75c5bb"/>
<rect x="490.8" y="301.45" width="23.2" height="7.31" fill="#7dc6aa"/>
<rect x="490.8" y="294.64" width="23.2" height="7.31" fill="#86c899"/>
<rect x="490.8" y="287.82" width="23.2" height="7.31" fill="#8eca89"/>
<rect x="490.8" y="281.01" width="23.2" height="7.31" fill="#96cb7a"/>
<rect x="490.8" y="274.20" width="23.2" height="7.31" fill="#9ecd6b"/>
<rect x="490.8" y="267.39" width="23.2" height="7.31" fill="#a7cf5d"/>
<rect x="490.8" y="260.57" width="23.2" height="7.31" fill="#b0d24f"/>
<rect x="490.8" y="253.76" width="23.2" height="7.31" fill="#bad541"/>
<rect x="490.8" y="246.95" width="23.2" height="7.31" fill="#c4d835"/>
<rect x="490.8" y="240.14" width="23.2" height="7.31" fill="#cfdc2c"/>
<rect x="490.8" y="233.32" width="23.2" height="7.31" fill="#dae022"/>
<rect x="490.8" y="226.51" width="23.2" height="7.31" fill="#e4e41a"/>
<rect x="490.8" y="219.70" width="23.2" height="7.31" fill="#f0e913"/>
<rect x="490.8" y="212.89" width="23.2" height="7.31" fill="#faed0c"/>
<rect x="490.8" y="206.07" width="23.2" height="7.31" fill="#fde40c"/>
<rect x="490.8" y="199.26" width="23.2" height="7.31" fill="#fcd70e"/>
<rect x="490.8" y="192.45" width="23.2" height="7.31" fill="#fcca11"/>
<rect x="490.8" y="185.64" width="23.2" height="7.31" fill="#fabc13"/>
<rect x="490.8" y="178.82" width="23.2" height="7.31" fill="#f8ae16"/>
<rect x="490.8" y="172.01" width="23.2" height="7.31" fill="#f6a119"/>
<rect x="490.8" y="165.20" width="23.2" height="7.31" fill="#f4901a"/>
<rect x="490.8" y="158.39" width="23.2" height="7.31" fill="#f2801a"/>
<rect x="490.8" y="151.57" width="23.2" height="7.31" fill="#f06f1b"/>
<rect x="490.8" y="144.76" width="23.2" height="7.31" fill="#ef5d1b"/>
<rect x="490.8" y="137.95" width="23.2" height="7.31" fill="#ed4a1b"/>
<rect x="490.8" y="131.14" width="23.2" height="7.31" fill="#ec381b"/>
<rect x="490.8" y="124.33" width="23.2" height="7.31" fill="#e92a1b"/>
<rect x="490.8" y="117.51" width="23.2" height="7.31" fill="#e61d1c"/>
<rect x="490.8" y="110.70" width="23.2" height="7.31" fill="#e4191c"/>
<rect x="490.8" y="103.89" width="23.2" height="7.31" fill="#e2181d"/>
<rect x="490.8" y="97.08" width="23.2" height="7.31" fill="#e0171d"/>
<rect x="490.8" y="90.26" width="23.2" height="7.31" fill="#da171d"/>
<rect x="490.8" y="83.45" width="23.2" height="7.31" fill="#cb181f"/>
<rect x="490.8" y="76.64" width="23.2" height="7.31" fill="#b91a20"/>
<rect x="490.8" y="69.83" width="23.2" height="7.31" fill="#a61b22"/>
<rect x="490.8" y="63.01" width="23.2" height="7.31" fill="#941a21"/>
<rect x="490.8" y="56.20" width="23.2" height="7.31" fill="#83191f"/>
<g stroke="#3a2f33" stroke-width="1" fill="none">
<path d="M490.8,437.7 h4M514.0,437.7 h-4M490.8,383.2 h4M514.0,383.2 h-4M490.8,328.7 h4M514.0,328.7 h-4M490.8,274.2 h4M514.0,274.2 h-4M490.8,219.7 h4M514.0,219.7 h-4M490.8,165.2 h4M514.0,165.2 h-4M490.8,110.7 h4M514.0,110.7 h-4"/>
<path d="M514.0,56.2 V492.2 H490.8 V56.2" stroke-width="0.7" stroke-opacity="0.8"/>
</g>
<g font-size="15.3">
<text x="518.8" y="496.4">10<tspan font-size="10" dy="-7.6">−5</tspan></text>
<text x="518.8" y="387.6">10<tspan font-size="10" dy="-7.6">−4</tspan></text>
<text x="518.8" y="278.9">10<tspan font-size="10" dy="-7.6">−3</tspan></text>
<text x="518.8" y="170.1">10<tspan font-size="10" dy="-7.6">−2</tspan></text>
<text x="518.8" y="61.3">10<tspan font-size="10" dy="-7.6">−1</tspan></text>
</g>
</svg></body></html>
